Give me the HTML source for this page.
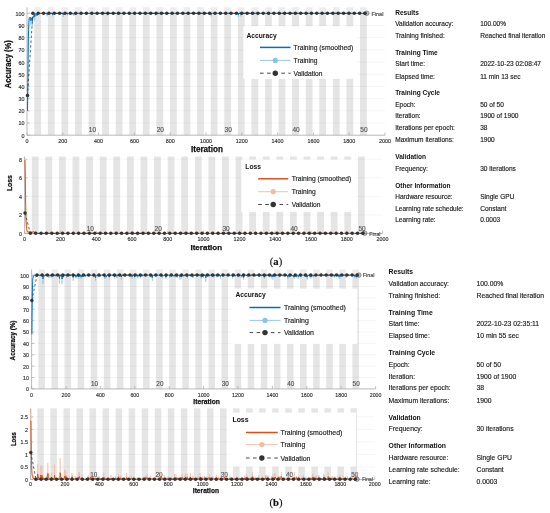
<!DOCTYPE html>
<html><head><meta charset="utf-8"><style>
html,body{margin:0;padding:0;background:#fff;}
svg{display:block;}
</style></head><body>
<svg width="550" height="513" viewBox="0 0 550 513" font-family='"Liberation Sans", Arial, Helvetica, sans-serif'>
<rect width="550" height="513" fill="#fff"/>
<rect x="34.29" y="7.3" width="6.79" height="5.7" fill="#EDEDED"/>
<rect x="34.29" y="13" width="6.79" height="122.2" fill="#E5E5E5"/>
<rect x="47.86" y="7.3" width="6.79" height="5.7" fill="#EDEDED"/>
<rect x="47.86" y="13" width="6.79" height="122.2" fill="#E5E5E5"/>
<rect x="61.43" y="7.3" width="6.79" height="5.7" fill="#EDEDED"/>
<rect x="61.43" y="13" width="6.79" height="122.2" fill="#E5E5E5"/>
<rect x="75" y="7.3" width="6.79" height="5.7" fill="#EDEDED"/>
<rect x="75" y="13" width="6.79" height="122.2" fill="#E5E5E5"/>
<rect x="88.57" y="7.3" width="6.79" height="5.7" fill="#EDEDED"/>
<rect x="88.57" y="13" width="6.79" height="122.2" fill="#E5E5E5"/>
<rect x="102.14" y="7.3" width="6.79" height="5.7" fill="#EDEDED"/>
<rect x="102.14" y="13" width="6.79" height="122.2" fill="#E5E5E5"/>
<rect x="115.71" y="7.3" width="6.79" height="5.7" fill="#EDEDED"/>
<rect x="115.71" y="13" width="6.79" height="122.2" fill="#E5E5E5"/>
<rect x="129.28" y="7.3" width="6.79" height="5.7" fill="#EDEDED"/>
<rect x="129.28" y="13" width="6.79" height="122.2" fill="#E5E5E5"/>
<rect x="142.86" y="7.3" width="6.79" height="5.7" fill="#EDEDED"/>
<rect x="142.86" y="13" width="6.79" height="122.2" fill="#E5E5E5"/>
<rect x="156.43" y="7.3" width="6.79" height="5.7" fill="#EDEDED"/>
<rect x="156.43" y="13" width="6.79" height="122.2" fill="#E5E5E5"/>
<rect x="170" y="7.3" width="6.79" height="5.7" fill="#EDEDED"/>
<rect x="170" y="13" width="6.79" height="122.2" fill="#E5E5E5"/>
<rect x="183.57" y="7.3" width="6.79" height="5.7" fill="#EDEDED"/>
<rect x="183.57" y="13" width="6.79" height="122.2" fill="#E5E5E5"/>
<rect x="197.14" y="7.3" width="6.79" height="5.7" fill="#EDEDED"/>
<rect x="197.14" y="13" width="6.79" height="122.2" fill="#E5E5E5"/>
<rect x="210.71" y="7.3" width="6.79" height="5.7" fill="#EDEDED"/>
<rect x="210.71" y="13" width="6.79" height="122.2" fill="#E5E5E5"/>
<rect x="224.28" y="7.3" width="6.79" height="5.7" fill="#EDEDED"/>
<rect x="224.28" y="13" width="6.79" height="122.2" fill="#E5E5E5"/>
<rect x="237.86" y="7.3" width="6.79" height="5.7" fill="#EDEDED"/>
<rect x="237.86" y="13" width="6.79" height="122.2" fill="#E5E5E5"/>
<rect x="251.43" y="7.3" width="6.79" height="5.7" fill="#EDEDED"/>
<rect x="251.43" y="13" width="6.79" height="122.2" fill="#E5E5E5"/>
<rect x="265" y="7.3" width="6.79" height="5.7" fill="#EDEDED"/>
<rect x="265" y="13" width="6.79" height="122.2" fill="#E5E5E5"/>
<rect x="278.57" y="7.3" width="6.79" height="5.7" fill="#EDEDED"/>
<rect x="278.57" y="13" width="6.79" height="122.2" fill="#E5E5E5"/>
<rect x="292.14" y="7.3" width="6.79" height="5.7" fill="#EDEDED"/>
<rect x="292.14" y="13" width="6.79" height="122.2" fill="#E5E5E5"/>
<rect x="305.71" y="7.3" width="6.79" height="5.7" fill="#EDEDED"/>
<rect x="305.71" y="13" width="6.79" height="122.2" fill="#E5E5E5"/>
<rect x="319.28" y="7.3" width="6.79" height="5.7" fill="#EDEDED"/>
<rect x="319.28" y="13" width="6.79" height="122.2" fill="#E5E5E5"/>
<rect x="332.85" y="7.3" width="6.79" height="5.7" fill="#EDEDED"/>
<rect x="332.85" y="13" width="6.79" height="122.2" fill="#E5E5E5"/>
<rect x="346.43" y="7.3" width="6.79" height="5.7" fill="#EDEDED"/>
<rect x="346.43" y="13" width="6.79" height="122.2" fill="#E5E5E5"/>
<rect x="360" y="7.3" width="6.79" height="5.7" fill="#EDEDED"/>
<rect x="360" y="13" width="6.79" height="122.2" fill="#E5E5E5"/>
<line x1="27" x2="385" y1="123.01" y2="123.01" stroke="#000" stroke-opacity="0.07" stroke-width="0.6"/>
<line x1="27" x2="385" y1="110.82" y2="110.82" stroke="#000" stroke-opacity="0.07" stroke-width="0.6"/>
<line x1="27" x2="385" y1="98.63" y2="98.63" stroke="#000" stroke-opacity="0.07" stroke-width="0.6"/>
<line x1="27" x2="385" y1="86.44" y2="86.44" stroke="#000" stroke-opacity="0.07" stroke-width="0.6"/>
<line x1="27" x2="385" y1="74.25" y2="74.25" stroke="#000" stroke-opacity="0.07" stroke-width="0.6"/>
<line x1="27" x2="385" y1="62.06" y2="62.06" stroke="#000" stroke-opacity="0.07" stroke-width="0.6"/>
<line x1="27" x2="385" y1="49.87" y2="49.87" stroke="#000" stroke-opacity="0.07" stroke-width="0.6"/>
<line x1="27" x2="385" y1="37.68" y2="37.68" stroke="#000" stroke-opacity="0.07" stroke-width="0.6"/>
<line x1="27" x2="385" y1="25.49" y2="25.49" stroke="#000" stroke-opacity="0.07" stroke-width="0.6"/>
<line x1="27" x2="385" y1="13.3" y2="13.3" stroke="#000" stroke-opacity="0.07" stroke-width="0.6"/>
<line x1="27" x2="27" y1="7.3" y2="135.2" stroke="#A8A8A8" stroke-width="0.8"/>
<line x1="27" x2="385" y1="135.2" y2="135.2" stroke="#A8A8A8" stroke-width="0.8"/>
<line x1="27" x2="27" y1="135.2" y2="132.4" stroke="#A8A8A8" stroke-width="0.7"/>
<text x="27" y="143.44" font-size="5.4" fill="#333333" text-anchor="middle" stroke="#333333" stroke-width="0.15">0</text>
<line x1="62.8" x2="62.8" y1="135.2" y2="132.4" stroke="#A8A8A8" stroke-width="0.7"/>
<text x="62.8" y="143.44" font-size="5.4" fill="#333333" text-anchor="middle" stroke="#333333" stroke-width="0.15">200</text>
<line x1="98.6" x2="98.6" y1="135.2" y2="132.4" stroke="#A8A8A8" stroke-width="0.7"/>
<text x="98.6" y="143.44" font-size="5.4" fill="#333333" text-anchor="middle" stroke="#333333" stroke-width="0.15">400</text>
<line x1="134.4" x2="134.4" y1="135.2" y2="132.4" stroke="#A8A8A8" stroke-width="0.7"/>
<text x="134.4" y="143.44" font-size="5.4" fill="#333333" text-anchor="middle" stroke="#333333" stroke-width="0.15">600</text>
<line x1="170.2" x2="170.2" y1="135.2" y2="132.4" stroke="#A8A8A8" stroke-width="0.7"/>
<text x="170.2" y="143.44" font-size="5.4" fill="#333333" text-anchor="middle" stroke="#333333" stroke-width="0.15">800</text>
<line x1="206" x2="206" y1="135.2" y2="132.4" stroke="#A8A8A8" stroke-width="0.7"/>
<text x="206" y="143.44" font-size="5.4" fill="#333333" text-anchor="middle" stroke="#333333" stroke-width="0.15">1000</text>
<line x1="241.8" x2="241.8" y1="135.2" y2="132.4" stroke="#A8A8A8" stroke-width="0.7"/>
<text x="241.8" y="143.44" font-size="5.4" fill="#333333" text-anchor="middle" stroke="#333333" stroke-width="0.15">1200</text>
<line x1="277.6" x2="277.6" y1="135.2" y2="132.4" stroke="#A8A8A8" stroke-width="0.7"/>
<text x="277.6" y="143.44" font-size="5.4" fill="#333333" text-anchor="middle" stroke="#333333" stroke-width="0.15">1400</text>
<line x1="313.4" x2="313.4" y1="135.2" y2="132.4" stroke="#A8A8A8" stroke-width="0.7"/>
<text x="313.4" y="143.44" font-size="5.4" fill="#333333" text-anchor="middle" stroke="#333333" stroke-width="0.15">1600</text>
<line x1="349.2" x2="349.2" y1="135.2" y2="132.4" stroke="#A8A8A8" stroke-width="0.7"/>
<text x="349.2" y="143.44" font-size="5.4" fill="#333333" text-anchor="middle" stroke="#333333" stroke-width="0.15">1800</text>
<line x1="385" x2="385" y1="135.2" y2="132.4" stroke="#A8A8A8" stroke-width="0.7"/>
<text x="385" y="143.44" font-size="5.4" fill="#333333" text-anchor="middle" stroke="#333333" stroke-width="0.15">2000</text>
<line x1="27" x2="29.8" y1="135.2" y2="135.2" stroke="#A8A8A8" stroke-width="0.7"/>
<text x="24.4" y="137.64" font-size="5.4" fill="#333333" text-anchor="end" stroke="#333333" stroke-width="0.15">0</text>
<line x1="27" x2="29.8" y1="123.01" y2="123.01" stroke="#A8A8A8" stroke-width="0.7"/>
<text x="24.4" y="125.45" font-size="5.4" fill="#333333" text-anchor="end" stroke="#333333" stroke-width="0.15">10</text>
<line x1="27" x2="29.8" y1="110.82" y2="110.82" stroke="#A8A8A8" stroke-width="0.7"/>
<text x="24.4" y="113.26" font-size="5.4" fill="#333333" text-anchor="end" stroke="#333333" stroke-width="0.15">20</text>
<line x1="27" x2="29.8" y1="98.63" y2="98.63" stroke="#A8A8A8" stroke-width="0.7"/>
<text x="24.4" y="101.07" font-size="5.4" fill="#333333" text-anchor="end" stroke="#333333" stroke-width="0.15">30</text>
<line x1="27" x2="29.8" y1="86.44" y2="86.44" stroke="#A8A8A8" stroke-width="0.7"/>
<text x="24.4" y="88.88" font-size="5.4" fill="#333333" text-anchor="end" stroke="#333333" stroke-width="0.15">40</text>
<line x1="27" x2="29.8" y1="74.25" y2="74.25" stroke="#A8A8A8" stroke-width="0.7"/>
<text x="24.4" y="76.69" font-size="5.4" fill="#333333" text-anchor="end" stroke="#333333" stroke-width="0.15">50</text>
<line x1="27" x2="29.8" y1="62.06" y2="62.06" stroke="#A8A8A8" stroke-width="0.7"/>
<text x="24.4" y="64.5" font-size="5.4" fill="#333333" text-anchor="end" stroke="#333333" stroke-width="0.15">60</text>
<line x1="27" x2="29.8" y1="49.87" y2="49.87" stroke="#A8A8A8" stroke-width="0.7"/>
<text x="24.4" y="52.31" font-size="5.4" fill="#333333" text-anchor="end" stroke="#333333" stroke-width="0.15">70</text>
<line x1="27" x2="29.8" y1="37.68" y2="37.68" stroke="#A8A8A8" stroke-width="0.7"/>
<text x="24.4" y="40.12" font-size="5.4" fill="#333333" text-anchor="end" stroke="#333333" stroke-width="0.15">80</text>
<line x1="27" x2="29.8" y1="25.49" y2="25.49" stroke="#A8A8A8" stroke-width="0.7"/>
<text x="24.4" y="27.93" font-size="5.4" fill="#333333" text-anchor="end" stroke="#333333" stroke-width="0.15">90</text>
<line x1="27" x2="29.8" y1="13.3" y2="13.3" stroke="#A8A8A8" stroke-width="0.7"/>
<text x="24.4" y="15.74" font-size="5.4" fill="#333333" text-anchor="end" stroke="#333333" stroke-width="0.15">100</text>
<text x="92.46" y="131.64" font-size="6.5" fill="#555" text-anchor="middle" stroke="#555" stroke-width="0.15">10</text>
<text x="160.32" y="131.64" font-size="6.5" fill="#555" text-anchor="middle" stroke="#555" stroke-width="0.15">20</text>
<text x="228.18" y="131.64" font-size="6.5" fill="#555" text-anchor="middle" stroke="#555" stroke-width="0.15">30</text>
<text x="296.03" y="131.64" font-size="6.5" fill="#555" text-anchor="middle" stroke="#555" stroke-width="0.15">40</text>
<text x="363.89" y="131.64" font-size="6.5" fill="#555" text-anchor="middle" stroke="#555" stroke-width="0.15">50</text>
<polyline points="27.5,110.82 27.68,84 27.86,55.96 28.04,37.68 28.21,26.71 28.39,21.83 28.57,19.39 28.75,17.57 28.93,17.34 29.11,17.23 29.29,16.95 29.46,17.34 29.64,16.99 29.82,18.73 30,17.88 30.18,16.95 30.36,17.52 30.54,17.03 30.71,18.56 30.89,25.18 31.07,18.3 31.25,17.72 31.43,17.67 31.61,18.76 31.79,18.36 31.96,18.24 32.14,17 32.32,25.83 32.5,18.47 32.68,17.23 32.86,18.01 33.04,16.94 33.21,17.05 33.39,16.71 33.57,15.16 33.75,15.48 33.93,15.27 34.11,13.3 34.29,13.3 34.46,15.03 34.64,20.61 34.82,14.21 35,13.75 35.18,15.31 35.36,13.3 35.54,13.71 35.71,13.3 35.89,13.3 36.07,15 36.25,14.79 36.43,15.44 36.61,15.5 36.79,15.77 36.96,14.99 37.14,14 37.32,15.97 37.5,13.3 46.96,13.3 47.14,16.35 47.32,13.3 52.32,13.3 52.5,16.35 52.68,13.3 63.04,13.3 63.21,16.96 63.39,13.3 67.5,13.3 67.68,15.51 67.86,13.3 72.14,13.3 72.32,14.78 72.5,13.3 73.75,13.3 73.93,15.74 74.11,13.3 107.32,13.3 107.5,15.67 107.68,13.3 155.36,13.3 155.53,15.47 155.71,13.3 210.89,13.3 211.07,16.37 211.25,13.3 238.21,13.3 238.39,16.82 238.57,13.3 240.89,13.3 241.07,16.45 241.25,13.3 326.96,13.3 327.14,14.81 327.32,13.3 366.78,13.3" fill="none" stroke="#8DC1E6" stroke-width="0.6" stroke-opacity="1.0" stroke-linejoin="round"/>
<polyline points="27.5,110.82 27.68,100.09 27.86,82.44 28.04,64.54 28.21,49.41 28.39,38.38 28.57,30.78 28.75,25.5 28.93,22.23 29.11,20.23 29.29,18.92 29.46,18.29 29.64,17.77 29.82,18.15 30,18.04 30.18,17.6 30.36,17.57 30.54,17.35 30.71,17.84 30.89,20.78 31.07,19.79 31.25,18.96 31.43,18.44 31.61,18.57 31.79,18.49 31.96,18.39 32.14,17.83 32.32,21.03 32.5,20.01 32.68,18.9 32.86,18.54 33.04,17.9 33.21,17.56 33.39,17.22 33.57,16.4 33.75,16.03 33.93,15.73 34.11,14.76 34.29,14.17 34.46,14.52 34.64,16.96 34.82,15.86 35,15.01 35.18,15.13 35.36,14.4 35.54,14.12 35.71,13.79 35.89,13.6 36.07,14.16 36.25,14.41 36.43,14.82 36.61,15.09 36.79,15.36 36.96,15.21 37.14,14.73 37.32,15.22 37.5,14.45 37.68,13.99 37.86,13.72 38.04,13.55 38.21,13.45 38.39,13.39 38.57,13.35 38.75,13.33 38.93,13.32 39.11,13.31 39.29,13.31 39.46,13.3 39.64,13.3 46.96,13.3 47.14,14.52 47.32,14.03 47.5,13.74 47.68,13.56 47.86,13.46 48.04,13.39 48.21,13.36 48.39,13.33 48.57,13.32 48.75,13.31 48.93,13.31 49.11,13.3 49.29,13.3 52.32,13.3 52.5,14.52 52.68,14.03 52.86,13.74 53.04,13.56 53.21,13.46 53.39,13.39 53.57,13.36 53.75,13.33 53.93,13.32 54.11,13.31 54.29,13.31 54.46,13.3 54.64,13.3 63.04,13.3 63.21,14.76 63.39,14.18 63.57,13.83 63.75,13.62 63.93,13.49 64.11,13.41 64.29,13.37 64.46,13.34 64.64,13.32 64.82,13.31 65,13.31 65.18,13.31 65.36,13.3 65.54,13.3 67.5,13.3 67.68,14.18 67.86,13.83 68.04,13.62 68.21,13.49 68.39,13.41 68.57,13.37 68.75,13.34 68.93,13.32 69.11,13.31 69.29,13.31 69.46,13.31 69.64,13.3 69.82,13.3 72.14,13.3 72.32,13.89 72.5,13.66 72.68,13.51 72.86,13.43 73.04,13.38 73.21,13.35 73.39,13.33 73.57,13.32 73.75,13.31 73.93,14.28 74.11,13.89 74.29,13.65 74.46,13.51 74.64,13.43 74.82,13.38 75,13.35 75.18,13.33 75.36,13.32 75.54,13.31 75.71,13.31 75.89,13.3 76.07,13.3 107.32,13.3 107.5,14.25 107.68,13.87 107.86,13.64 108.04,13.5 108.21,13.42 108.39,13.37 108.57,13.34 108.75,13.33 108.93,13.32 109.11,13.31 109.29,13.31 109.46,13.3 109.64,13.3 155.36,13.3 155.53,14.17 155.71,13.82 155.89,13.61 156.07,13.49 156.25,13.41 156.43,13.37 156.61,13.34 156.78,13.32 156.96,13.31 157.14,13.31 157.32,13.31 157.5,13.3 157.68,13.3 210.89,13.3 211.07,14.53 211.25,14.04 211.43,13.74 211.61,13.57 211.78,13.46 211.96,13.4 212.14,13.36 212.32,13.33 212.5,13.32 212.68,13.31 212.86,13.31 213.03,13.3 213.21,13.3 238.21,13.3 238.39,14.71 238.57,14.14 238.75,13.81 238.93,13.6 239.11,13.48 239.28,13.41 239.46,13.37 239.64,13.34 239.82,13.32 240,13.31 240.18,13.31 240.36,13.31 240.53,13.3 240.71,13.3 240.89,13.3 241.07,14.56 241.25,14.06 241.43,13.75 241.61,13.57 241.78,13.46 241.96,13.4 242.14,13.36 242.32,13.34 242.5,13.32 242.68,13.31 242.86,13.31 243.03,13.3 243.21,13.3 326.96,13.3 327.14,13.9 327.32,13.66 327.5,13.52 327.68,13.43 327.85,13.38 328.03,13.35 328.21,13.33 328.39,13.32 328.57,13.31 328.75,13.31 328.93,13.3 329.1,13.3 366.78,13.3" fill="none" stroke="#0072BD" stroke-width="1.0" stroke-opacity="1.0" stroke-linejoin="round"/>
<polyline points="27.5,95.58 32.86,13.3 366.78,13.3" fill="none" stroke="#333333" stroke-width="0.8" stroke-opacity="1.0" stroke-linejoin="round" stroke-dasharray="2.4 2.4"/>
<circle cx="27.5" cy="95.58" r="1.75" fill="#333333"/>
<circle cx="32.86" cy="13.3" r="1.75" fill="#333333"/>
<circle cx="38.21" cy="13.3" r="1.75" fill="#333333"/>
<circle cx="43.57" cy="13.3" r="1.75" fill="#333333"/>
<circle cx="48.93" cy="13.3" r="1.75" fill="#333333"/>
<circle cx="54.29" cy="13.3" r="1.75" fill="#333333"/>
<circle cx="59.64" cy="13.3" r="1.75" fill="#333333"/>
<circle cx="65" cy="13.3" r="1.75" fill="#333333"/>
<circle cx="70.36" cy="13.3" r="1.75" fill="#333333"/>
<circle cx="75.71" cy="13.3" r="1.75" fill="#333333"/>
<circle cx="81.07" cy="13.3" r="1.75" fill="#333333"/>
<circle cx="86.43" cy="13.3" r="1.75" fill="#333333"/>
<circle cx="91.79" cy="13.3" r="1.75" fill="#333333"/>
<circle cx="97.14" cy="13.3" r="1.75" fill="#333333"/>
<circle cx="102.5" cy="13.3" r="1.75" fill="#333333"/>
<circle cx="107.86" cy="13.3" r="1.75" fill="#333333"/>
<circle cx="113.21" cy="13.3" r="1.75" fill="#333333"/>
<circle cx="118.57" cy="13.3" r="1.75" fill="#333333"/>
<circle cx="123.93" cy="13.3" r="1.75" fill="#333333"/>
<circle cx="129.28" cy="13.3" r="1.75" fill="#333333"/>
<circle cx="134.64" cy="13.3" r="1.75" fill="#333333"/>
<circle cx="140" cy="13.3" r="1.75" fill="#333333"/>
<circle cx="145.36" cy="13.3" r="1.75" fill="#333333"/>
<circle cx="150.71" cy="13.3" r="1.75" fill="#333333"/>
<circle cx="156.07" cy="13.3" r="1.75" fill="#333333"/>
<circle cx="161.43" cy="13.3" r="1.75" fill="#333333"/>
<circle cx="166.78" cy="13.3" r="1.75" fill="#333333"/>
<circle cx="172.14" cy="13.3" r="1.75" fill="#333333"/>
<circle cx="177.5" cy="13.3" r="1.75" fill="#333333"/>
<circle cx="182.86" cy="13.3" r="1.75" fill="#333333"/>
<circle cx="188.21" cy="13.3" r="1.75" fill="#333333"/>
<circle cx="193.57" cy="13.3" r="1.75" fill="#333333"/>
<circle cx="198.93" cy="13.3" r="1.75" fill="#333333"/>
<circle cx="204.28" cy="13.3" r="1.75" fill="#333333"/>
<circle cx="209.64" cy="13.3" r="1.75" fill="#333333"/>
<circle cx="215" cy="13.3" r="1.75" fill="#333333"/>
<circle cx="220.36" cy="13.3" r="1.75" fill="#333333"/>
<circle cx="225.71" cy="13.3" r="1.75" fill="#333333"/>
<circle cx="231.07" cy="13.3" r="1.75" fill="#333333"/>
<circle cx="236.43" cy="13.3" r="1.75" fill="#333333"/>
<circle cx="241.78" cy="13.3" r="1.75" fill="#333333"/>
<circle cx="247.14" cy="13.3" r="1.75" fill="#333333"/>
<circle cx="252.5" cy="13.3" r="1.75" fill="#333333"/>
<circle cx="257.86" cy="13.3" r="1.75" fill="#333333"/>
<circle cx="263.21" cy="13.3" r="1.75" fill="#333333"/>
<circle cx="268.57" cy="13.3" r="1.75" fill="#333333"/>
<circle cx="273.93" cy="13.3" r="1.75" fill="#333333"/>
<circle cx="279.28" cy="13.3" r="1.75" fill="#333333"/>
<circle cx="284.64" cy="13.3" r="1.75" fill="#333333"/>
<circle cx="290" cy="13.3" r="1.75" fill="#333333"/>
<circle cx="295.36" cy="13.3" r="1.75" fill="#333333"/>
<circle cx="300.71" cy="13.3" r="1.75" fill="#333333"/>
<circle cx="306.07" cy="13.3" r="1.75" fill="#333333"/>
<circle cx="311.43" cy="13.3" r="1.75" fill="#333333"/>
<circle cx="316.78" cy="13.3" r="1.75" fill="#333333"/>
<circle cx="322.14" cy="13.3" r="1.75" fill="#333333"/>
<circle cx="327.5" cy="13.3" r="1.75" fill="#333333"/>
<circle cx="332.85" cy="13.3" r="1.75" fill="#333333"/>
<circle cx="338.21" cy="13.3" r="1.75" fill="#333333"/>
<circle cx="343.57" cy="13.3" r="1.75" fill="#333333"/>
<circle cx="348.93" cy="13.3" r="1.75" fill="#333333"/>
<circle cx="354.28" cy="13.3" r="1.75" fill="#333333"/>
<circle cx="359.64" cy="13.3" r="1.75" fill="#333333"/>
<circle cx="365" cy="13.3" r="1.75" fill="#333333"/>
<circle cx="366.78" cy="13.3" r="2.3" fill="#8a8a8a" fill-opacity="0.55" stroke="#555" stroke-width="0.5"/>
<circle cx="365" cy="13.3" r="1.6" fill="#333333"/>
<text x="371.38" y="15.62" font-size="5.6" fill="#444" textLength="12" lengthAdjust="spacingAndGlyphs" stroke="#444" stroke-width="0.15">Final</text>
<rect x="243.4" y="26.2" width="113.9" height="52.6" fill="#fff"/>
<text x="246.5" y="37.71" font-size="6.7" fill="#111" font-weight="bold">Accuracy</text>
<line x1="260" x2="290.6" y1="47.4" y2="47.4" stroke="#0072BD" stroke-width="1.5"/>
<text x="293.6" y="49.81" font-size="6.7" fill="#222" stroke="#222" stroke-width="0.15">Training (smoothed)</text>
<line x1="260" x2="290.6" y1="60.4" y2="60.4" stroke="#8DC1E6" stroke-width="0.9"/>
<circle cx="275.3" cy="60.4" r="2.6" fill="#8DC1E6"/>
<text x="293.6" y="62.81" font-size="6.7" fill="#222" stroke="#222" stroke-width="0.15">Training</text>
<line x1="260" x2="290.6" y1="73.2" y2="73.2" stroke="#333333" stroke-width="0.9" stroke-dasharray="3.6 3.5"/>
<circle cx="275.3" cy="73.2" r="2.7" fill="#333333"/>
<text x="293.6" y="75.61" font-size="6.7" fill="#222" stroke="#222" stroke-width="0.15">Validation</text>
<text transform="translate(11.25,64.2) rotate(-90)" font-size="8.2" font-weight="bold" text-anchor="middle" fill="#111" stroke="#111" stroke-width="0.25" textLength="47.9" lengthAdjust="spacingAndGlyphs">Accuracy (%)</text>
<text x="207" y="152.15" font-size="8.2" fill="#111" text-anchor="middle" font-weight="bold" textLength="32.1" lengthAdjust="spacingAndGlyphs" stroke="#111" stroke-width="0.25">Iteration</text>
<rect x="31.79" y="156.5" width="6.79" height="77" fill="#E5E5E5"/>
<rect x="45.38" y="156.5" width="6.79" height="77" fill="#E5E5E5"/>
<rect x="58.97" y="156.5" width="6.79" height="77" fill="#E5E5E5"/>
<rect x="72.56" y="156.5" width="6.79" height="77" fill="#E5E5E5"/>
<rect x="86.15" y="156.5" width="6.79" height="77" fill="#E5E5E5"/>
<rect x="99.74" y="156.5" width="6.79" height="77" fill="#E5E5E5"/>
<rect x="113.33" y="156.5" width="6.79" height="77" fill="#E5E5E5"/>
<rect x="126.92" y="156.5" width="6.79" height="77" fill="#E5E5E5"/>
<rect x="140.5" y="156.5" width="6.79" height="77" fill="#E5E5E5"/>
<rect x="154.09" y="156.5" width="6.79" height="77" fill="#E5E5E5"/>
<rect x="167.68" y="156.5" width="6.79" height="77" fill="#E5E5E5"/>
<rect x="181.27" y="156.5" width="6.79" height="77" fill="#E5E5E5"/>
<rect x="194.86" y="156.5" width="6.79" height="77" fill="#E5E5E5"/>
<rect x="208.45" y="156.5" width="6.79" height="77" fill="#E5E5E5"/>
<rect x="222.04" y="156.5" width="6.79" height="77" fill="#E5E5E5"/>
<rect x="235.63" y="156.5" width="6.79" height="77" fill="#E5E5E5"/>
<rect x="249.22" y="156.5" width="6.79" height="77" fill="#E5E5E5"/>
<rect x="262.8" y="156.5" width="6.79" height="77" fill="#E5E5E5"/>
<rect x="276.39" y="156.5" width="6.79" height="77" fill="#E5E5E5"/>
<rect x="289.98" y="156.5" width="6.79" height="77" fill="#E5E5E5"/>
<rect x="303.57" y="156.5" width="6.79" height="77" fill="#E5E5E5"/>
<rect x="317.16" y="156.5" width="6.79" height="77" fill="#E5E5E5"/>
<rect x="330.75" y="156.5" width="6.79" height="77" fill="#E5E5E5"/>
<rect x="344.34" y="156.5" width="6.79" height="77" fill="#E5E5E5"/>
<rect x="357.93" y="156.5" width="6.79" height="77" fill="#E5E5E5"/>
<line x1="24.6" x2="382.6" y1="214.92" y2="214.92" stroke="#000" stroke-opacity="0.07" stroke-width="0.6"/>
<line x1="24.6" x2="382.6" y1="196.34" y2="196.34" stroke="#000" stroke-opacity="0.07" stroke-width="0.6"/>
<line x1="24.6" x2="382.6" y1="177.76" y2="177.76" stroke="#000" stroke-opacity="0.07" stroke-width="0.6"/>
<line x1="24.6" x2="382.6" y1="159.18" y2="159.18" stroke="#000" stroke-opacity="0.07" stroke-width="0.6"/>
<line x1="24.6" x2="24.6" y1="156.5" y2="233.5" stroke="#A8A8A8" stroke-width="0.8"/>
<line x1="24.6" x2="382.6" y1="233.5" y2="233.5" stroke="#A8A8A8" stroke-width="0.8"/>
<line x1="24.6" x2="24.6" y1="233.5" y2="230.7" stroke="#A8A8A8" stroke-width="0.7"/>
<text x="24.6" y="241.04" font-size="5.4" fill="#333333" text-anchor="middle" stroke="#333333" stroke-width="0.15">0</text>
<line x1="60.4" x2="60.4" y1="233.5" y2="230.7" stroke="#A8A8A8" stroke-width="0.7"/>
<text x="60.4" y="241.04" font-size="5.4" fill="#333333" text-anchor="middle" stroke="#333333" stroke-width="0.15">200</text>
<line x1="96.2" x2="96.2" y1="233.5" y2="230.7" stroke="#A8A8A8" stroke-width="0.7"/>
<text x="96.2" y="241.04" font-size="5.4" fill="#333333" text-anchor="middle" stroke="#333333" stroke-width="0.15">400</text>
<line x1="132" x2="132" y1="233.5" y2="230.7" stroke="#A8A8A8" stroke-width="0.7"/>
<text x="132" y="241.04" font-size="5.4" fill="#333333" text-anchor="middle" stroke="#333333" stroke-width="0.15">600</text>
<line x1="167.8" x2="167.8" y1="233.5" y2="230.7" stroke="#A8A8A8" stroke-width="0.7"/>
<text x="167.8" y="241.04" font-size="5.4" fill="#333333" text-anchor="middle" stroke="#333333" stroke-width="0.15">800</text>
<line x1="203.6" x2="203.6" y1="233.5" y2="230.7" stroke="#A8A8A8" stroke-width="0.7"/>
<text x="203.6" y="241.04" font-size="5.4" fill="#333333" text-anchor="middle" stroke="#333333" stroke-width="0.15">1000</text>
<line x1="239.4" x2="239.4" y1="233.5" y2="230.7" stroke="#A8A8A8" stroke-width="0.7"/>
<text x="239.4" y="241.04" font-size="5.4" fill="#333333" text-anchor="middle" stroke="#333333" stroke-width="0.15">1200</text>
<line x1="275.2" x2="275.2" y1="233.5" y2="230.7" stroke="#A8A8A8" stroke-width="0.7"/>
<text x="275.2" y="241.04" font-size="5.4" fill="#333333" text-anchor="middle" stroke="#333333" stroke-width="0.15">1400</text>
<line x1="311" x2="311" y1="233.5" y2="230.7" stroke="#A8A8A8" stroke-width="0.7"/>
<text x="311" y="241.04" font-size="5.4" fill="#333333" text-anchor="middle" stroke="#333333" stroke-width="0.15">1600</text>
<line x1="346.8" x2="346.8" y1="233.5" y2="230.7" stroke="#A8A8A8" stroke-width="0.7"/>
<text x="346.8" y="241.04" font-size="5.4" fill="#333333" text-anchor="middle" stroke="#333333" stroke-width="0.15">1800</text>
<line x1="382.6" x2="382.6" y1="233.5" y2="230.7" stroke="#A8A8A8" stroke-width="0.7"/>
<text x="382.6" y="241.04" font-size="5.4" fill="#333333" text-anchor="middle" stroke="#333333" stroke-width="0.15">2000</text>
<line x1="24.6" x2="27.4" y1="233.5" y2="233.5" stroke="#A8A8A8" stroke-width="0.7"/>
<text x="22" y="235.94" font-size="5.4" fill="#333333" text-anchor="end" stroke="#333333" stroke-width="0.15">0</text>
<line x1="24.6" x2="27.4" y1="214.92" y2="214.92" stroke="#A8A8A8" stroke-width="0.7"/>
<text x="22" y="217.36" font-size="5.4" fill="#333333" text-anchor="end" stroke="#333333" stroke-width="0.15">2</text>
<line x1="24.6" x2="27.4" y1="196.34" y2="196.34" stroke="#A8A8A8" stroke-width="0.7"/>
<text x="22" y="198.78" font-size="5.4" fill="#333333" text-anchor="end" stroke="#333333" stroke-width="0.15">4</text>
<line x1="24.6" x2="27.4" y1="177.76" y2="177.76" stroke="#A8A8A8" stroke-width="0.7"/>
<text x="22" y="180.2" font-size="5.4" fill="#333333" text-anchor="end" stroke="#333333" stroke-width="0.15">6</text>
<line x1="24.6" x2="27.4" y1="159.18" y2="159.18" stroke="#A8A8A8" stroke-width="0.7"/>
<text x="22" y="161.62" font-size="5.4" fill="#333333" text-anchor="end" stroke="#333333" stroke-width="0.15">8</text>
<text x="90.25" y="230.64" font-size="6.5" fill="#555" text-anchor="middle" stroke="#555" stroke-width="0.15">10</text>
<text x="158.19" y="230.64" font-size="6.5" fill="#555" text-anchor="middle" stroke="#555" stroke-width="0.15">20</text>
<text x="226.13" y="230.64" font-size="6.5" fill="#555" text-anchor="middle" stroke="#555" stroke-width="0.15">30</text>
<text x="294.08" y="230.64" font-size="6.5" fill="#555" text-anchor="middle" stroke="#555" stroke-width="0.15">40</text>
<text x="362.02" y="230.64" font-size="6.5" fill="#555" text-anchor="middle" stroke="#555" stroke-width="0.15">50</text>
<polyline points="25,160.02 25.18,186.82 25.36,203.84 25.54,214.64 25.72,221.49 25.89,225.85 26.07,226.76 26.25,228.45 26.43,230.35 26.61,231.57 26.79,232.63 26.97,231.37 27.15,232 27.32,231.44 27.5,232.41 27.68,231.54 27.86,232.72 28.04,231.51 28.22,231.69 28.4,232.43 28.58,232.15 28.75,231.82 28.93,232.96 29.11,232.12 29.29,231.54 29.47,232.79 29.65,231.54 29.83,231.81 30.01,231.45 30.19,232.63 30.36,233.19 30.54,231.55 30.72,231.54 30.9,232.37 31.08,233.19 31.26,232.95 31.44,231.93 31.62,232.73 31.79,231.2 31.97,232.04 32.15,232.94 32.33,231.88 32.51,232.57 32.69,231.24 32.87,231.29 33.05,232.21 33.22,231.91 33.4,231.79 33.58,231.54 33.76,231.14 33.94,233.34 34.12,232.57 34.3,232.01 34.48,232.7 34.66,232.04 34.83,233.2 35.01,231.36 35.19,232.19 35.37,233.14 35.55,231.87 35.73,233.41 48.24,233.41 48.42,232.91 48.6,233.41 79.53,233.41 79.71,233.33 79.89,232.48 80.07,233.41 87.4,233.41 87.58,233.07 87.76,233.41 97.41,233.41 97.59,232.42 97.77,233.41 105.64,233.41 105.82,232.43 106,233.41 116.19,233.41 116.37,233.11 116.55,233.41 137.47,233.41 137.64,233.36 137.82,233.41 145.87,233.41 146.05,233.04 146.23,233.41 153.91,233.41 154.09,233.33 154.27,233.41 169.29,233.41 169.47,232.7 169.65,233.41 169.83,233.41 170.01,232.42 170.19,233.41 185.92,233.41 186.1,232.33 186.28,233.41 186.46,233.08 186.64,233.41 186.81,232.51 186.99,233.41 199.51,233.41 199.69,233.06 199.87,233.41 238.13,233.41 238.31,232.85 238.49,233.41 253.33,233.41 253.51,232.99 253.69,233.41 270.13,233.41 270.31,232.68 270.49,233.41 272.46,233.41 272.64,232.96 272.82,233.41 286.41,233.41 286.58,232.82 286.76,233.41 299.99,233.41 300.17,232.44 300.35,233.41 341.12,233.41 341.3,233.05 341.48,233.41 351.49,233.41 351.67,233.29 351.85,233.41 364.72,233.41" fill="none" stroke="#F2BBA3" stroke-width="0.6" stroke-opacity="1.0" stroke-linejoin="round"/>
<polyline points="25,160.02 25.18,170.74 25.36,183.98 25.54,196.24 25.72,206.34 25.89,214.14 26.07,219.19 26.25,222.9 26.43,225.88 26.61,228.15 26.79,229.94 26.97,230.52 27.15,231.11 27.32,231.24 27.5,231.71 27.68,231.64 27.86,232.07 28.04,231.85 28.22,231.79 28.4,232.04 28.58,232.09 28.75,231.98 28.93,232.37 29.11,232.27 29.29,231.98 29.47,232.3 29.65,232 29.83,231.92 30.01,231.73 30.19,232.09 30.36,232.53 30.54,232.14 30.72,231.9 30.9,232.09 31.08,232.53 31.26,232.7 31.44,232.39 31.62,232.53 31.79,232 31.97,232.01 32.15,232.38 32.33,232.18 32.51,232.34 32.69,231.9 32.87,231.66 33.05,231.88 33.22,231.89 33.4,231.85 33.58,231.72 33.76,231.49 33.94,232.23 34.12,232.37 34.3,232.22 34.48,232.41 34.66,232.26 34.83,232.64 35.01,232.13 35.19,232.15 35.37,232.55 35.55,232.27 35.73,232.73 35.91,233 36.09,233.16 36.26,233.26 36.44,233.32 36.62,233.35 36.8,233.38 36.98,233.39 48.24,233.41 48.42,233.21 48.6,233.29 48.78,233.33 48.96,233.36 49.14,233.38 49.32,233.39 79.53,233.41 79.71,233.38 79.89,233.02 80.07,233.17 80.25,233.27 80.43,233.32 80.61,233.36 80.79,233.38 80.96,233.39 87.4,233.41 87.58,233.27 87.76,233.33 87.94,233.36 88.12,233.38 88.3,233.39 97.41,233.41 97.59,233.01 97.77,233.17 97.95,233.27 98.13,233.32 98.31,233.36 98.49,233.38 98.67,233.39 105.64,233.41 105.82,233.02 106,233.17 106.18,233.27 106.35,233.32 106.53,233.36 106.71,233.38 106.89,233.39 116.19,233.41 116.37,233.29 116.55,233.34 116.72,233.36 116.9,233.38 117.08,233.39 137.47,233.41 137.64,233.39 145.87,233.41 146.05,233.26 146.23,233.32 146.41,233.35 146.58,233.38 146.76,233.39 153.91,233.41 154.09,233.38 154.27,233.39 169.29,233.41 169.47,233.12 169.65,233.24 169.83,233.3 170.01,232.95 170.19,233.13 170.36,233.24 170.54,233.31 170.72,233.35 170.9,233.37 171.08,233.39 185.92,233.41 186.1,232.98 186.28,233.15 186.46,233.12 186.64,233.23 186.81,232.95 186.99,233.13 187.17,233.24 187.35,233.31 187.53,233.35 187.71,233.37 187.89,233.39 199.51,233.41 199.69,233.27 199.87,233.32 200.05,233.36 200.22,233.38 200.4,233.39 238.13,233.41 238.31,233.18 238.49,233.27 238.67,233.33 238.84,233.36 239.02,233.38 239.2,233.39 253.33,233.41 253.51,233.24 253.69,233.31 253.86,233.35 254.04,233.37 254.22,233.39 270.13,233.41 270.31,233.12 270.49,233.23 270.67,233.3 270.85,233.34 271.03,233.37 271.21,233.38 272.46,233.41 272.64,233.23 272.82,233.3 273,233.34 273.17,233.37 273.35,233.38 273.53,233.39 286.41,233.41 286.58,233.17 286.76,233.27 286.94,233.32 287.12,233.36 287.3,233.38 287.48,233.39 299.99,233.41 300.17,233.02 300.35,233.18 300.53,233.27 300.71,233.32 300.89,233.36 301.07,233.38 301.25,233.39 341.12,233.41 341.3,233.26 341.48,233.32 341.65,233.36 341.83,233.38 342.01,233.39 351.49,233.41 351.67,233.36 351.85,233.38 352.03,233.39 364.72,233.41" fill="none" stroke="#D95319" stroke-width="1.0" stroke-opacity="1.0" stroke-linejoin="round"/>
<polyline points="25,213.06 30.36,233.31 364.72,233.31" fill="none" stroke="#333333" stroke-width="0.8" stroke-opacity="1.0" stroke-linejoin="round" stroke-dasharray="2.4 2.4"/>
<circle cx="25" cy="213.06" r="1.75" fill="#333333"/>
<circle cx="30.36" cy="233.31" r="1.75" fill="#333333"/>
<circle cx="35.73" cy="233.31" r="1.75" fill="#333333"/>
<circle cx="41.09" cy="233.31" r="1.75" fill="#333333"/>
<circle cx="46.46" cy="233.31" r="1.75" fill="#333333"/>
<circle cx="51.82" cy="233.31" r="1.75" fill="#333333"/>
<circle cx="57.18" cy="233.31" r="1.75" fill="#333333"/>
<circle cx="62.55" cy="233.31" r="1.75" fill="#333333"/>
<circle cx="67.91" cy="233.31" r="1.75" fill="#333333"/>
<circle cx="73.28" cy="233.31" r="1.75" fill="#333333"/>
<circle cx="78.64" cy="233.31" r="1.75" fill="#333333"/>
<circle cx="84" cy="233.31" r="1.75" fill="#333333"/>
<circle cx="89.37" cy="233.31" r="1.75" fill="#333333"/>
<circle cx="94.73" cy="233.31" r="1.75" fill="#333333"/>
<circle cx="100.1" cy="233.31" r="1.75" fill="#333333"/>
<circle cx="105.46" cy="233.31" r="1.75" fill="#333333"/>
<circle cx="110.82" cy="233.31" r="1.75" fill="#333333"/>
<circle cx="116.19" cy="233.31" r="1.75" fill="#333333"/>
<circle cx="121.55" cy="233.31" r="1.75" fill="#333333"/>
<circle cx="126.92" cy="233.31" r="1.75" fill="#333333"/>
<circle cx="132.28" cy="233.31" r="1.75" fill="#333333"/>
<circle cx="137.64" cy="233.31" r="1.75" fill="#333333"/>
<circle cx="143.01" cy="233.31" r="1.75" fill="#333333"/>
<circle cx="148.37" cy="233.31" r="1.75" fill="#333333"/>
<circle cx="153.74" cy="233.31" r="1.75" fill="#333333"/>
<circle cx="159.1" cy="233.31" r="1.75" fill="#333333"/>
<circle cx="164.46" cy="233.31" r="1.75" fill="#333333"/>
<circle cx="169.83" cy="233.31" r="1.75" fill="#333333"/>
<circle cx="175.19" cy="233.31" r="1.75" fill="#333333"/>
<circle cx="180.56" cy="233.31" r="1.75" fill="#333333"/>
<circle cx="185.92" cy="233.31" r="1.75" fill="#333333"/>
<circle cx="191.28" cy="233.31" r="1.75" fill="#333333"/>
<circle cx="196.65" cy="233.31" r="1.75" fill="#333333"/>
<circle cx="202.01" cy="233.31" r="1.75" fill="#333333"/>
<circle cx="207.38" cy="233.31" r="1.75" fill="#333333"/>
<circle cx="212.74" cy="233.31" r="1.75" fill="#333333"/>
<circle cx="218.1" cy="233.31" r="1.75" fill="#333333"/>
<circle cx="223.47" cy="233.31" r="1.75" fill="#333333"/>
<circle cx="228.83" cy="233.31" r="1.75" fill="#333333"/>
<circle cx="234.2" cy="233.31" r="1.75" fill="#333333"/>
<circle cx="239.56" cy="233.31" r="1.75" fill="#333333"/>
<circle cx="244.92" cy="233.31" r="1.75" fill="#333333"/>
<circle cx="250.29" cy="233.31" r="1.75" fill="#333333"/>
<circle cx="255.65" cy="233.31" r="1.75" fill="#333333"/>
<circle cx="261.02" cy="233.31" r="1.75" fill="#333333"/>
<circle cx="266.38" cy="233.31" r="1.75" fill="#333333"/>
<circle cx="271.74" cy="233.31" r="1.75" fill="#333333"/>
<circle cx="277.11" cy="233.31" r="1.75" fill="#333333"/>
<circle cx="282.47" cy="233.31" r="1.75" fill="#333333"/>
<circle cx="287.84" cy="233.31" r="1.75" fill="#333333"/>
<circle cx="293.2" cy="233.31" r="1.75" fill="#333333"/>
<circle cx="298.56" cy="233.31" r="1.75" fill="#333333"/>
<circle cx="303.93" cy="233.31" r="1.75" fill="#333333"/>
<circle cx="309.29" cy="233.31" r="1.75" fill="#333333"/>
<circle cx="314.66" cy="233.31" r="1.75" fill="#333333"/>
<circle cx="320.02" cy="233.31" r="1.75" fill="#333333"/>
<circle cx="325.38" cy="233.31" r="1.75" fill="#333333"/>
<circle cx="330.75" cy="233.31" r="1.75" fill="#333333"/>
<circle cx="336.11" cy="233.31" r="1.75" fill="#333333"/>
<circle cx="341.48" cy="233.31" r="1.75" fill="#333333"/>
<circle cx="346.84" cy="233.31" r="1.75" fill="#333333"/>
<circle cx="352.2" cy="233.31" r="1.75" fill="#333333"/>
<circle cx="357.57" cy="233.31" r="1.75" fill="#333333"/>
<circle cx="362.93" cy="233.31" r="1.75" fill="#333333"/>
<circle cx="364.72" cy="233.22" r="2.3" fill="#8a8a8a" fill-opacity="0.55" stroke="#555" stroke-width="0.5"/>
<circle cx="362.93" cy="233.22" r="1.6" fill="#333333"/>
<text x="369.32" y="235.54" font-size="5.6" fill="#444" textLength="11.2" lengthAdjust="spacingAndGlyphs" stroke="#444" stroke-width="0.15">Final</text>
<rect x="241.3" y="159.6" width="115.1" height="52.2" fill="#fff"/>
<text x="245.3" y="168.81" font-size="6.7" fill="#111" font-weight="bold">Loss</text>
<line x1="258.2" x2="288.2" y1="178.8" y2="178.8" stroke="#D95319" stroke-width="1.5"/>
<text x="291.7" y="181.21" font-size="6.7" fill="#222" stroke="#222" stroke-width="0.15">Training (smoothed)</text>
<line x1="258.2" x2="288.2" y1="191.7" y2="191.7" stroke="#F2BBA3" stroke-width="0.9"/>
<circle cx="273.2" cy="191.7" r="2.6" fill="#F2BBA3"/>
<text x="291.7" y="194.11" font-size="6.7" fill="#222" stroke="#222" stroke-width="0.15">Training</text>
<line x1="258.2" x2="288.2" y1="204.5" y2="204.5" stroke="#333333" stroke-width="0.9" stroke-dasharray="3.6 3.5"/>
<circle cx="273.2" cy="204.5" r="2.7" fill="#333333"/>
<text x="291.7" y="206.91" font-size="6.7" fill="#222" stroke="#222" stroke-width="0.15">Validation</text>
<text transform="translate(12.14,183.1) rotate(-90)" font-size="7.9" font-weight="bold" text-anchor="middle" fill="#111" stroke="#111" stroke-width="0.25" textLength="16" lengthAdjust="spacingAndGlyphs">Loss</text>
<text x="206.3" y="249.52" font-size="8.1" fill="#111" text-anchor="middle" font-weight="bold" textLength="31.7" lengthAdjust="spacingAndGlyphs" stroke="#111" stroke-width="0.25">Iteration</text>
<text x="395.2" y="14.56" font-size="6.55" fill="#111" font-weight="bold">Results</text>
<text x="395.2" y="26.26" font-size="6.55" fill="#222" stroke="#222" stroke-width="0.15">Validation accuracy:</text>
<text x="480.2" y="26.26" font-size="6.55" fill="#222" stroke="#222" stroke-width="0.15">100.00%</text>
<text x="395.2" y="38.16" font-size="6.55" fill="#222" stroke="#222" stroke-width="0.15">Training finished:</text>
<text x="480.2" y="38.16" font-size="6.55" fill="#222" stroke="#222" stroke-width="0.15">Reached final iteration</text>
<text x="395.2" y="55.26" font-size="6.55" fill="#111" font-weight="bold">Training Time</text>
<text x="395.2" y="66.36" font-size="6.55" fill="#222" stroke="#222" stroke-width="0.15">Start time:</text>
<text x="480.2" y="66.36" font-size="6.55" fill="#222" stroke="#222" stroke-width="0.15">2022-10-23 02:08:47</text>
<text x="395.2" y="78.56" font-size="6.55" fill="#222" stroke="#222" stroke-width="0.15">Elapsed time:</text>
<text x="480.2" y="78.56" font-size="6.55" fill="#222" stroke="#222" stroke-width="0.15">11 min 13 sec</text>
<text x="395.2" y="95.46" font-size="6.55" fill="#111" font-weight="bold">Training Cycle</text>
<text x="395.2" y="106.66" font-size="6.55" fill="#222" stroke="#222" stroke-width="0.15">Epoch:</text>
<text x="480.2" y="106.66" font-size="6.55" fill="#222" stroke="#222" stroke-width="0.15">50 of 50</text>
<text x="395.2" y="118.26" font-size="6.55" fill="#222" stroke="#222" stroke-width="0.15">Iteration:</text>
<text x="480.2" y="118.26" font-size="6.55" fill="#222" stroke="#222" stroke-width="0.15">1900 of 1900</text>
<text x="395.2" y="130.36" font-size="6.55" fill="#222" stroke="#222" stroke-width="0.15">Iterations per epoch:</text>
<text x="480.2" y="130.36" font-size="6.55" fill="#222" stroke="#222" stroke-width="0.15">38</text>
<text x="395.2" y="141.96" font-size="6.55" fill="#222" stroke="#222" stroke-width="0.15">Maximum iterations:</text>
<text x="480.2" y="141.96" font-size="6.55" fill="#222" stroke="#222" stroke-width="0.15">1900</text>
<text x="395.2" y="158.66" font-size="6.55" fill="#111" font-weight="bold">Validation</text>
<text x="395.2" y="170.56" font-size="6.55" fill="#222" stroke="#222" stroke-width="0.15">Frequency:</text>
<text x="480.2" y="170.56" font-size="6.55" fill="#222" stroke="#222" stroke-width="0.15">30 iterations</text>
<text x="395.2" y="187.56" font-size="6.55" fill="#111" font-weight="bold">Other Information</text>
<text x="395.2" y="198.96" font-size="6.55" fill="#222" stroke="#222" stroke-width="0.15">Hardware resource:</text>
<text x="480.2" y="198.96" font-size="6.55" fill="#222" stroke="#222" stroke-width="0.15">Single GPU</text>
<text x="395.2" y="210.76" font-size="6.55" fill="#222" stroke="#222" stroke-width="0.15">Learning rate schedule:</text>
<text x="480.2" y="210.76" font-size="6.55" fill="#222" stroke="#222" stroke-width="0.15">Constant</text>
<text x="395.2" y="222.36" font-size="6.55" fill="#222" stroke="#222" stroke-width="0.15">Learning rate:</text>
<text x="480.2" y="222.36" font-size="6.55" fill="#222" stroke="#222" stroke-width="0.15">0.0003</text>
<text x="276" y="265.1" font-size="10.6" fill="#111" text-anchor="middle" stroke="#111" stroke-width="0.15" font-family='"Liberation Serif", "Times New Roman", serif'>(<tspan font-weight="bold">a</tspan>)</text>
<rect x="38.4" y="269.5" width="6.54" height="5.3" fill="#EDEDED"/>
<rect x="38.4" y="274.8" width="6.54" height="114.1" fill="#E5E5E5"/>
<rect x="51.49" y="269.5" width="6.54" height="5.3" fill="#EDEDED"/>
<rect x="51.49" y="274.8" width="6.54" height="114.1" fill="#E5E5E5"/>
<rect x="64.57" y="269.5" width="6.54" height="5.3" fill="#EDEDED"/>
<rect x="64.57" y="274.8" width="6.54" height="114.1" fill="#E5E5E5"/>
<rect x="77.65" y="269.5" width="6.54" height="5.3" fill="#EDEDED"/>
<rect x="77.65" y="274.8" width="6.54" height="114.1" fill="#E5E5E5"/>
<rect x="90.74" y="269.5" width="6.54" height="5.3" fill="#EDEDED"/>
<rect x="90.74" y="274.8" width="6.54" height="114.1" fill="#E5E5E5"/>
<rect x="103.82" y="269.5" width="6.54" height="5.3" fill="#EDEDED"/>
<rect x="103.82" y="274.8" width="6.54" height="114.1" fill="#E5E5E5"/>
<rect x="116.9" y="269.5" width="6.54" height="5.3" fill="#EDEDED"/>
<rect x="116.9" y="274.8" width="6.54" height="114.1" fill="#E5E5E5"/>
<rect x="129.99" y="269.5" width="6.54" height="5.3" fill="#EDEDED"/>
<rect x="129.99" y="274.8" width="6.54" height="114.1" fill="#E5E5E5"/>
<rect x="143.07" y="269.5" width="6.54" height="5.3" fill="#EDEDED"/>
<rect x="143.07" y="274.8" width="6.54" height="114.1" fill="#E5E5E5"/>
<rect x="156.15" y="269.5" width="6.54" height="5.3" fill="#EDEDED"/>
<rect x="156.15" y="274.8" width="6.54" height="114.1" fill="#E5E5E5"/>
<rect x="169.24" y="269.5" width="6.54" height="5.3" fill="#EDEDED"/>
<rect x="169.24" y="274.8" width="6.54" height="114.1" fill="#E5E5E5"/>
<rect x="182.32" y="269.5" width="6.54" height="5.3" fill="#EDEDED"/>
<rect x="182.32" y="274.8" width="6.54" height="114.1" fill="#E5E5E5"/>
<rect x="195.4" y="269.5" width="6.54" height="5.3" fill="#EDEDED"/>
<rect x="195.4" y="274.8" width="6.54" height="114.1" fill="#E5E5E5"/>
<rect x="208.49" y="269.5" width="6.54" height="5.3" fill="#EDEDED"/>
<rect x="208.49" y="274.8" width="6.54" height="114.1" fill="#E5E5E5"/>
<rect x="221.57" y="269.5" width="6.54" height="5.3" fill="#EDEDED"/>
<rect x="221.57" y="274.8" width="6.54" height="114.1" fill="#E5E5E5"/>
<rect x="234.65" y="269.5" width="6.54" height="5.3" fill="#EDEDED"/>
<rect x="234.65" y="274.8" width="6.54" height="114.1" fill="#E5E5E5"/>
<rect x="247.74" y="269.5" width="6.54" height="5.3" fill="#EDEDED"/>
<rect x="247.74" y="274.8" width="6.54" height="114.1" fill="#E5E5E5"/>
<rect x="260.82" y="269.5" width="6.54" height="5.3" fill="#EDEDED"/>
<rect x="260.82" y="274.8" width="6.54" height="114.1" fill="#E5E5E5"/>
<rect x="273.9" y="269.5" width="6.54" height="5.3" fill="#EDEDED"/>
<rect x="273.9" y="274.8" width="6.54" height="114.1" fill="#E5E5E5"/>
<rect x="286.99" y="269.5" width="6.54" height="5.3" fill="#EDEDED"/>
<rect x="286.99" y="274.8" width="6.54" height="114.1" fill="#E5E5E5"/>
<rect x="300.07" y="269.5" width="6.54" height="5.3" fill="#EDEDED"/>
<rect x="300.07" y="274.8" width="6.54" height="114.1" fill="#E5E5E5"/>
<rect x="313.15" y="269.5" width="6.54" height="5.3" fill="#EDEDED"/>
<rect x="313.15" y="274.8" width="6.54" height="114.1" fill="#E5E5E5"/>
<rect x="326.24" y="269.5" width="6.54" height="5.3" fill="#EDEDED"/>
<rect x="326.24" y="274.8" width="6.54" height="114.1" fill="#E5E5E5"/>
<rect x="339.32" y="269.5" width="6.54" height="5.3" fill="#EDEDED"/>
<rect x="339.32" y="274.8" width="6.54" height="114.1" fill="#E5E5E5"/>
<rect x="352.4" y="269.5" width="6.54" height="5.3" fill="#EDEDED"/>
<rect x="352.4" y="274.8" width="6.54" height="114.1" fill="#E5E5E5"/>
<line x1="31.6" x2="375.6" y1="377.52" y2="377.52" stroke="#000" stroke-opacity="0.07" stroke-width="0.6"/>
<line x1="31.6" x2="375.6" y1="366.14" y2="366.14" stroke="#000" stroke-opacity="0.07" stroke-width="0.6"/>
<line x1="31.6" x2="375.6" y1="354.76" y2="354.76" stroke="#000" stroke-opacity="0.07" stroke-width="0.6"/>
<line x1="31.6" x2="375.6" y1="343.38" y2="343.38" stroke="#000" stroke-opacity="0.07" stroke-width="0.6"/>
<line x1="31.6" x2="375.6" y1="332" y2="332" stroke="#000" stroke-opacity="0.07" stroke-width="0.6"/>
<line x1="31.6" x2="375.6" y1="320.62" y2="320.62" stroke="#000" stroke-opacity="0.07" stroke-width="0.6"/>
<line x1="31.6" x2="375.6" y1="309.24" y2="309.24" stroke="#000" stroke-opacity="0.07" stroke-width="0.6"/>
<line x1="31.6" x2="375.6" y1="297.86" y2="297.86" stroke="#000" stroke-opacity="0.07" stroke-width="0.6"/>
<line x1="31.6" x2="375.6" y1="286.48" y2="286.48" stroke="#000" stroke-opacity="0.07" stroke-width="0.6"/>
<line x1="31.6" x2="375.6" y1="275.1" y2="275.1" stroke="#000" stroke-opacity="0.07" stroke-width="0.6"/>
<line x1="31.6" x2="31.6" y1="269.5" y2="388.9" stroke="#A8A8A8" stroke-width="0.8"/>
<line x1="31.6" x2="375.6" y1="388.9" y2="388.9" stroke="#A8A8A8" stroke-width="0.8"/>
<line x1="31.6" x2="31.6" y1="388.9" y2="386.1" stroke="#A8A8A8" stroke-width="0.7"/>
<text x="31.6" y="396.81" font-size="5.3" fill="#333333" text-anchor="middle" stroke="#333333" stroke-width="0.15">0</text>
<line x1="66" x2="66" y1="388.9" y2="386.1" stroke="#A8A8A8" stroke-width="0.7"/>
<text x="66" y="396.81" font-size="5.3" fill="#333333" text-anchor="middle" stroke="#333333" stroke-width="0.15">200</text>
<line x1="100.4" x2="100.4" y1="388.9" y2="386.1" stroke="#A8A8A8" stroke-width="0.7"/>
<text x="100.4" y="396.81" font-size="5.3" fill="#333333" text-anchor="middle" stroke="#333333" stroke-width="0.15">400</text>
<line x1="134.8" x2="134.8" y1="388.9" y2="386.1" stroke="#A8A8A8" stroke-width="0.7"/>
<text x="134.8" y="396.81" font-size="5.3" fill="#333333" text-anchor="middle" stroke="#333333" stroke-width="0.15">600</text>
<line x1="169.2" x2="169.2" y1="388.9" y2="386.1" stroke="#A8A8A8" stroke-width="0.7"/>
<text x="169.2" y="396.81" font-size="5.3" fill="#333333" text-anchor="middle" stroke="#333333" stroke-width="0.15">800</text>
<line x1="203.6" x2="203.6" y1="388.9" y2="386.1" stroke="#A8A8A8" stroke-width="0.7"/>
<text x="203.6" y="396.81" font-size="5.3" fill="#333333" text-anchor="middle" stroke="#333333" stroke-width="0.15">1000</text>
<line x1="238" x2="238" y1="388.9" y2="386.1" stroke="#A8A8A8" stroke-width="0.7"/>
<text x="238" y="396.81" font-size="5.3" fill="#333333" text-anchor="middle" stroke="#333333" stroke-width="0.15">1200</text>
<line x1="272.4" x2="272.4" y1="388.9" y2="386.1" stroke="#A8A8A8" stroke-width="0.7"/>
<text x="272.4" y="396.81" font-size="5.3" fill="#333333" text-anchor="middle" stroke="#333333" stroke-width="0.15">1400</text>
<line x1="306.8" x2="306.8" y1="388.9" y2="386.1" stroke="#A8A8A8" stroke-width="0.7"/>
<text x="306.8" y="396.81" font-size="5.3" fill="#333333" text-anchor="middle" stroke="#333333" stroke-width="0.15">1600</text>
<line x1="341.2" x2="341.2" y1="388.9" y2="386.1" stroke="#A8A8A8" stroke-width="0.7"/>
<text x="341.2" y="396.81" font-size="5.3" fill="#333333" text-anchor="middle" stroke="#333333" stroke-width="0.15">1800</text>
<line x1="375.6" x2="375.6" y1="388.9" y2="386.1" stroke="#A8A8A8" stroke-width="0.7"/>
<text x="375.6" y="396.81" font-size="5.3" fill="#333333" text-anchor="middle" stroke="#333333" stroke-width="0.15">2000</text>
<line x1="31.6" x2="34.4" y1="388.9" y2="388.9" stroke="#A8A8A8" stroke-width="0.7"/>
<text x="29" y="391.31" font-size="5.3" fill="#333333" text-anchor="end" stroke="#333333" stroke-width="0.15">0</text>
<line x1="31.6" x2="34.4" y1="377.52" y2="377.52" stroke="#A8A8A8" stroke-width="0.7"/>
<text x="29" y="379.93" font-size="5.3" fill="#333333" text-anchor="end" stroke="#333333" stroke-width="0.15">10</text>
<line x1="31.6" x2="34.4" y1="366.14" y2="366.14" stroke="#A8A8A8" stroke-width="0.7"/>
<text x="29" y="368.55" font-size="5.3" fill="#333333" text-anchor="end" stroke="#333333" stroke-width="0.15">20</text>
<line x1="31.6" x2="34.4" y1="354.76" y2="354.76" stroke="#A8A8A8" stroke-width="0.7"/>
<text x="29" y="357.17" font-size="5.3" fill="#333333" text-anchor="end" stroke="#333333" stroke-width="0.15">30</text>
<line x1="31.6" x2="34.4" y1="343.38" y2="343.38" stroke="#A8A8A8" stroke-width="0.7"/>
<text x="29" y="345.79" font-size="5.3" fill="#333333" text-anchor="end" stroke="#333333" stroke-width="0.15">40</text>
<line x1="31.6" x2="34.4" y1="332" y2="332" stroke="#A8A8A8" stroke-width="0.7"/>
<text x="29" y="334.41" font-size="5.3" fill="#333333" text-anchor="end" stroke="#333333" stroke-width="0.15">50</text>
<line x1="31.6" x2="34.4" y1="320.62" y2="320.62" stroke="#A8A8A8" stroke-width="0.7"/>
<text x="29" y="323.03" font-size="5.3" fill="#333333" text-anchor="end" stroke="#333333" stroke-width="0.15">60</text>
<line x1="31.6" x2="34.4" y1="309.24" y2="309.24" stroke="#A8A8A8" stroke-width="0.7"/>
<text x="29" y="311.65" font-size="5.3" fill="#333333" text-anchor="end" stroke="#333333" stroke-width="0.15">70</text>
<line x1="31.6" x2="34.4" y1="297.86" y2="297.86" stroke="#A8A8A8" stroke-width="0.7"/>
<text x="29" y="300.27" font-size="5.3" fill="#333333" text-anchor="end" stroke="#333333" stroke-width="0.15">80</text>
<line x1="31.6" x2="34.4" y1="286.48" y2="286.48" stroke="#A8A8A8" stroke-width="0.7"/>
<text x="29" y="288.89" font-size="5.3" fill="#333333" text-anchor="end" stroke="#333333" stroke-width="0.15">90</text>
<line x1="31.6" x2="34.4" y1="275.1" y2="275.1" stroke="#A8A8A8" stroke-width="0.7"/>
<text x="29" y="277.51" font-size="5.3" fill="#333333" text-anchor="end" stroke="#333333" stroke-width="0.15">100</text>
<text x="94.51" y="385.9" font-size="6.4" fill="#555" text-anchor="middle" stroke="#555" stroke-width="0.15">10</text>
<text x="159.92" y="385.9" font-size="6.4" fill="#555" text-anchor="middle" stroke="#555" stroke-width="0.15">20</text>
<text x="225.34" y="385.9" font-size="6.4" fill="#555" text-anchor="middle" stroke="#555" stroke-width="0.15">30</text>
<text x="290.76" y="385.9" font-size="6.4" fill="#555" text-anchor="middle" stroke="#555" stroke-width="0.15">40</text>
<text x="356.17" y="385.9" font-size="6.4" fill="#555" text-anchor="middle" stroke="#555" stroke-width="0.15">50</text>
<polyline points="31.86,334.28 32.03,288.76 32.2,278.51 32.38,275.67 32.55,275.1 32.89,275.1 33.07,276.42 33.24,276.06 33.41,275.1 33.58,275.99 33.75,275.81 33.93,275.22 34.1,275.1 34.27,275.1 34.44,275.42 34.61,275.1 35.3,275.1 35.48,277.55 35.65,275.1 35.82,275.26 35.99,275.1 36.16,275.1 36.34,276.19 36.51,275.1 36.85,275.1 37.02,275.18 37.2,276.53 37.37,275.1 39.61,275.1 39.78,275.78 39.95,275.1 40.12,275.94 40.3,276.48 40.47,275.1 42.36,275.1 42.53,276.61 42.71,275.1 42.88,275.1 43.05,284.2 43.22,275.1 43.57,275.1 43.74,275.88 43.91,275.26 44.08,276.93 44.25,275.46 44.43,275.1 44.6,275.1 44.77,275.85 44.94,275.1 46.32,275.1 46.49,275.34 46.66,275.1 47.35,275.1 47.53,275.78 47.7,275.1 48.73,275.1 48.9,277.98 49.08,275.1 49.76,275.1 49.94,276.36 50.11,275.19 50.28,275.32 50.45,275.1 50.62,275.1 50.8,275.23 50.97,275.1 51.14,277.7 51.31,275.1 51.49,275.46 51.66,275.1 51.83,275.1 52,277.47 52.17,275.1 52.52,275.1 52.69,275.23 52.86,275.1 53.21,275.1 53.38,275.13 53.55,275.1 53.72,275.1 53.9,276.08 54.07,276.04 54.24,275.1 54.93,275.1 55.1,276.95 55.27,275.1 57.34,275.1 57.51,275.14 57.68,275.1 59.23,275.1 59.4,283.63 59.58,275.39 59.75,275.1 60.61,275.1 60.78,276.45 60.95,275.1 61.47,275.1 61.64,277.05 61.81,275.1 61.99,284.2 62.16,275.1 62.85,275.1 63.02,275.27 63.19,278.04 63.36,275.1 63.54,277.29 63.71,275.1 64.22,275.1 64.4,275.12 64.57,275.1 65.6,275.1 65.77,275.46 65.95,275.1 66.63,275.1 66.81,278.11 66.98,275.1 68.36,275.1 68.53,275.83 68.7,275.1 68.87,275.1 69.04,275.9 69.22,275.1 70.08,275.1 70.25,276.13 70.42,275.1 73,275.1 73.18,280.79 73.35,275.1 74.21,275.1 74.38,275.26 74.55,275.1 74.73,275.44 74.9,276.49 75.07,275.1 75.24,275.1 75.41,276.68 75.59,275.1 75.76,277.78 75.93,275.1 76.1,278.51 76.27,275.1 76.79,275.1 76.96,275.81 77.14,275.1 77.31,275.1 77.48,275.58 77.65,275.1 77.82,276.11 78,275.1 78.17,275.6 78.34,275.1 78.51,275.1 78.68,278.51 78.86,275.1 79.03,275.1 79.2,275.49 79.37,276.99 79.55,275.1 79.72,275.79 79.89,275.1 80.23,275.1 80.41,278.25 80.58,275.1 80.75,275.1 80.92,275.17 81.09,275.1 81.27,275.1 81.44,278.51 81.61,275.1 81.78,275.1 81.96,277.53 82.13,277.59 82.3,275.1 82.99,275.1 83.16,276.04 83.33,275.1 83.5,275.32 83.68,275.38 83.85,275.1 84.54,275.1 84.71,275.63 84.88,275.46 85.05,276.75 85.23,275.1 85.4,275.91 85.57,275.1 85.74,277.24 85.92,275.1 87.98,275.1 88.15,275.27 88.33,276.79 88.5,275.1 88.67,275.21 88.84,275.1 89.87,275.1 90.05,275.84 90.22,275.1 91.42,275.1 91.6,275.7 91.77,275.1 91.94,275.1 92.11,275.98 92.28,275.48 92.46,275.74 92.63,275.13 92.8,275.1 94.52,275.1 94.69,276.71 94.87,275.1 95.04,277.36 95.21,275.1 95.38,275.1 95.56,280.79 95.73,275.1 95.9,276.03 96.07,275.1 97.45,275.1 97.62,275.28 97.79,275.1 97.97,277.36 98.14,275.1 98.83,275.1 99,277.1 99.17,275.1 99.69,275.1 99.86,276.77 100.03,275.1 100.2,275.49 100.38,275.1 100.55,276.79 100.72,275.1 101.93,275.1 102.1,275.3 102.27,275.1 102.79,275.1 102.96,275.18 103.13,275.1 104.34,275.1 104.51,277.91 104.68,278.51 104.85,275.1 105.02,275.87 105.2,275.1 105.71,275.1 105.88,278.51 106.06,276.19 106.23,276.03 106.4,275.1 106.57,277.25 106.75,275.1 107.61,275.1 107.78,275.1 107.95,275.1 108.29,275.1 108.47,275.63 108.64,275.1 108.81,275.1 108.98,276.84 109.16,275.1 109.33,278.37 109.5,275.1 111.05,275.1 111.22,275.23 111.39,275.1 112.25,275.1 112.43,275.69 112.6,275.1 113.8,275.1 113.98,276.75 114.15,275.1 114.66,275.1 114.84,278.37 115.01,275.9 115.18,275.1 116.56,275.1 116.73,275.32 116.9,278.06 117.07,275.1 117.76,275.1 117.94,275.37 118.11,275.62 118.28,275.44 118.45,275.1 119.83,275.1 120,275.51 120.17,275.1 120.35,275.98 120.52,275.1 120.69,275.1 120.86,275.5 121.03,275.1 121.21,275.1 121.38,279.65 121.55,275.1 121.89,275.1 122.07,275.14 122.24,275.1 122.76,275.1 122.93,275.72 123.1,275.1 123.79,275.1 123.96,275.31 124.13,275.1 125.34,275.1 125.51,277.01 125.68,275.1 126.2,275.1 126.37,275.46 126.54,275.1 126.71,275.1 126.89,275.19 127.06,275.1 127.75,275.1 127.92,275.55 128.09,275.1 129.64,275.1 129.81,275.96 129.99,275.1 130.85,275.1 131.02,275.62 131.19,275.1 131.36,275.1 131.53,277.1 131.71,275.1 131.88,275.1 132.05,278.51 132.22,275.1 133.43,275.1 133.6,275.42 133.77,275.1 134.12,275.1 134.29,275.73 134.46,278.51 134.63,275.17 134.81,275.73 134.98,275.1 136.36,275.1 136.53,276.47 136.7,275.1 137.22,275.1 137.39,275.51 137.56,275.1 137.73,275.1 137.9,278.51 138.08,275.1 138.77,275.1 138.94,275.9 139.11,275.1 139.8,275.1 139.97,275.76 140.14,275.1 140.31,275.1 140.49,275.14 140.66,278.26 140.83,275.1 142.55,275.1 142.72,276.86 142.9,275.1 143.24,275.1 143.41,275.43 143.59,275.1 146.51,275.1 146.68,275.38 146.86,275.1 147.03,275.1 147.2,275.14 147.37,275.1 148.23,275.1 148.41,275.23 148.58,275.1 150.13,275.1 150.3,277.4 150.47,275.1 151.5,275.1 151.68,277.8 151.85,275.1 152.19,275.1 152.37,280.79 152.54,275.1 153.23,275.1 153.4,275.91 153.57,275.1 153.91,275.1 154.09,275.54 154.26,275.36 154.43,275.1 155.81,275.1 155.98,276.24 156.15,275.1 156.5,275.1 156.67,275.39 156.84,275.1 157.36,275.1 157.53,275.6 157.7,275.1 158.56,275.1 158.73,275.23 158.91,275.1 159.25,275.1 159.42,275.32 159.6,275.1 162.01,275.1 162.18,278 162.35,275.1 163.21,275.1 163.38,276.1 163.55,275.1 163.73,275.1 163.9,276.32 164.07,275.1 164.24,275.1 164.42,275.52 164.59,275.1 164.76,275.1 164.93,275.94 165.1,275.1 165.45,275.1 165.62,278.51 165.79,275.1 165.96,275.1 166.14,278.36 166.31,275.1 168.72,275.1 168.89,275.46 169.06,275.1 169.24,275.1 169.41,276.13 169.58,275.1 169.75,277.38 169.92,276.25 170.1,275.1 171.47,275.1 171.65,276.31 171.82,275.1 172.85,275.1 173.02,275.27 173.2,275.1 173.37,275.83 173.54,275.1 173.71,276.37 173.88,276.76 174.06,275.1 174.23,275.1 174.4,275.98 174.57,275.1 174.74,275.1 174.92,277.54 175.09,275.1 176.81,275.1 176.98,275.64 177.15,275.1 177.33,277.94 177.5,275.1 177.67,275.1 177.84,275.97 178.02,275.1 178.7,275.1 178.88,275.35 179.05,275.1 179.74,275.1 179.91,279.65 180.08,276.05 180.25,275.1 181.11,275.1 181.29,278.51 181.46,275.1 183.18,275.1 183.35,277.25 183.52,275.1 184.38,275.1 184.56,275.14 184.73,276.3 184.9,275.1 185.25,275.1 185.42,275.42 185.59,275.1 185.76,275.1 185.93,275.1 186.11,275.65 186.28,275.1 187.14,275.1 187.31,278.51 187.48,275.1 187.66,275.23 187.83,275.1 188.52,275.1 188.69,276.4 188.86,275.1 190.07,275.1 190.24,276.05 190.41,275.1 190.58,275.1 190.75,276.99 190.93,276.1 191.1,275.1 191.27,275.38 191.44,275.1 192.48,275.1 192.65,277.86 192.82,275.1 192.99,275.1 193.16,277.43 193.34,275.1 194.03,275.1 194.2,275.43 194.37,275.61 194.54,275.1 196.78,275.1 196.95,275.48 197.12,275.1 200.91,275.1 201.08,278.13 201.26,275.13 201.43,278.41 201.6,275.1 201.77,275.14 201.94,276.58 202.12,275.1 202.46,275.1 202.63,276.22 202.8,275.1 203.32,275.1 203.49,277.63 203.67,275.1 203.84,275.1 204.01,275.39 204.18,275.14 204.35,275.1 205.22,275.1 205.39,275.23 205.56,275.1 205.73,281.93 205.9,275.1 206.08,275.1 206.25,275.47 206.42,275.1 207.63,275.1 207.8,275.77 207.97,275.1 209,275.1 209.17,277.25 209.35,275.1 209.52,275.38 209.69,275.1 209.86,275.1 210.04,275.94 210.21,275.1 212.1,275.1 212.27,276.37 212.45,277.04 212.62,275.1 213.65,275.1 213.82,277.85 213.99,275.39 214.17,275.1 216.23,275.1 216.4,277.42 216.58,275.1 217.44,275.1 217.61,275.88 217.78,275.1 218.64,275.1 218.81,275.31 218.99,275.1 220.19,275.1 220.36,278.51 220.54,275.71 220.71,275.1 221.57,275.1 221.74,275.39 221.91,275.1 222.09,275.74 222.26,275.1 222.95,275.1 223.12,276.26 223.29,275.1 226.22,275.1 226.39,275.78 226.56,275.1 229.14,275.1 229.32,276.08 229.49,275.1 230,275.1 230.18,276.17 230.35,275.1 232.24,275.1 232.41,278.51 232.59,275.1 232.76,275.5 232.93,275.1 233.1,275.78 233.28,275.1 235.17,275.1 235.34,276.98 235.51,275.1 237.58,275.1 237.75,277.35 237.92,275.1 238.96,275.1 239.13,276.7 239.3,275.1 240.85,275.1 241.02,277.3 241.19,275.1 241.37,275.1 241.54,277.33 241.71,275.1 241.88,275.11 242.06,275.1 242.4,275.1 242.57,275.29 242.74,275.1 243.09,275.1 243.26,278.03 243.43,275.1 243.6,279.65 243.78,275.1 246.36,275.1 246.53,275.95 246.7,275.89 246.88,275.95 247.05,275.1 247.39,275.1 247.56,277.4 247.74,275.1 248.77,275.1 248.94,276.37 249.11,275.1 249.29,276.28 249.46,275.1 250.49,275.1 250.66,276.69 250.83,275.1 255.31,275.1 255.48,276.71 255.65,275.1 255.83,275.1 256,275.55 256.17,275.36 256.34,275.1 258.75,275.1 258.93,275.35 259.1,276.96 259.27,275.1 261.34,275.1 261.51,276.15 261.68,275.26 261.85,275.1 262.37,275.1 262.54,275.71 262.71,275.1 263.4,275.1 263.57,276.39 263.75,275.1 263.92,275.12 264.09,276.54 264.26,278.51 264.43,277.65 264.61,275.12 264.78,275.1 265.3,275.1 265.47,276.96 265.64,275.1 265.98,275.1 266.16,276.34 266.33,275.1 267.19,275.1 267.36,275.12 267.53,275.1 267.71,275.1 267.88,275.57 268.05,275.1 268.57,275.1 268.74,275.67 268.91,275.1 269.25,275.1 269.43,277.1 269.6,275.1 271.15,275.1 271.32,278.51 271.49,275.1 272.7,275.1 272.87,279.65 273.04,275.1 274.08,275.1 274.25,275.48 274.42,275.1 274.94,275.1 275.11,277.34 275.28,275.1 276.66,275.1 276.83,276.11 277,275.1 279.07,275.1 279.24,277.16 279.41,275.1 281.99,275.1 282.17,275.16 282.34,275.1 282.51,275.1 282.68,276.35 282.85,275.1 283.03,276.24 283.2,275.1 283.37,275.1 283.54,275.14 283.72,275.1 285.61,275.1 285.78,275.38 285.95,275.1 286.13,275.17 286.3,275.1 286.99,275.1 287.16,276.24 287.33,275.1 287.5,278.51 287.67,275.1 288.71,275.1 288.88,278.51 289.05,275.1 289.22,275.1 289.4,275.47 289.57,275.1 290.09,275.1 290.26,277.03 290.43,275.1 290.77,275.1 290.95,275.3 291.12,275.1 291.98,275.1 292.15,275.59 292.32,275.1 292.5,275.92 292.67,275.1 292.84,275.1 293.01,276.52 293.18,276.68 293.36,275.1 293.53,278.39 293.7,275.1 294.22,275.1 294.39,275.84 294.56,278.41 294.73,275.1 295.77,275.1 295.94,275.41 296.11,276.67 296.28,275.1 296.45,277.66 296.63,275.1 296.8,275.1 296.97,275.5 297.14,275.1 298,275.1 298.18,278.51 298.35,277.92 298.52,275.1 300.07,275.1 300.24,275.53 300.41,275.1 300.59,276.72 300.76,275.1 300.93,275.1 301.1,277.16 301.27,275.1 301.45,275.1 301.62,275.1 302.65,275.1 302.82,275.35 303,275.1 303.34,275.1 303.51,275.21 303.68,275.1 305.06,275.1 305.23,276.75 305.41,275.1 305.58,275.1 305.75,277.18 305.92,275.1 306.44,275.1 306.61,278.12 306.78,275.1 307.13,275.1 307.3,279.65 307.47,275.1 308.16,275.1 308.33,276.02 308.51,275.1 308.68,275.1 308.85,276.67 309.02,275.1 309.88,275.1 310.05,277.68 310.23,275.1 310.92,275.1 311.09,278.51 311.26,275.1 311.43,275.1 311.6,275.46 311.78,275.1 311.95,275.23 312.12,275.1 312.29,275.1 312.46,276.25 312.64,275.1 312.98,275.1 313.15,277.65 313.33,275.1 313.5,275.26 313.67,275.1 314.01,275.1 314.19,275.75 314.36,276.22 314.53,275.1 314.7,276.16 314.87,275.1 318.15,275.1 318.32,276.01 318.49,275.1 319.52,275.1 319.69,275.81 319.87,275.1 320.04,275.29 320.21,275.1 321.24,275.1 321.42,276.38 321.59,275.1 323.65,275.1 323.83,276.23 324,275.1 324.69,275.1 324.86,275.27 325.03,275.54 325.2,275.1 325.55,275.1 325.72,276.09 325.89,275.1 328.47,275.1 328.65,275.64 328.82,275.1 330.02,275.1 330.2,275.19 330.37,275.1 330.54,275.1 330.71,275.71 330.88,275.1 331.06,275.1 331.23,275.42 331.4,275.1 331.57,275.1 331.75,275.61 331.92,275.1 333.98,275.1 334.16,277.66 334.33,276.92 334.5,275.1 338.29,275.1 338.46,276.17 338.63,275.1 338.8,278.26 338.98,275.1 339.84,275.1 340.01,279.08 340.18,275.16 340.35,275.1 342.94,275.1 343.11,275.69 343.28,275.1 346.03,275.1 346.21,277.92 346.38,275.1 347.07,275.1 347.24,275.53 347.41,275.1 348.79,275.1 348.96,275.76 349.13,275.1 349.48,275.1 349.65,275.55 349.82,275.1 351.71,275.1 351.89,275.31 352.06,275.1 352.23,275.23 352.4,275.1 353.09,275.1 353.26,275.12 353.44,275.1 354.3,275.1 354.47,278.03 354.64,275.1 355.16,275.1 355.33,277.87 355.5,275.1 356.19,275.1 356.36,278.44 356.53,275.1 358.94,275.1" fill="none" stroke="#8DC1E6" stroke-width="0.6" stroke-opacity="1.0" stroke-linejoin="round"/>
<polyline points="31.86,334.28 32.03,316.07 32.2,301.05 32.38,290.9 32.55,284.58 32.72,280.79 32.89,278.51 33.07,277.67 33.24,277.03 33.41,276.26 33.58,276.15 33.75,276.01 33.93,275.7 34.1,275.46 34.27,275.31 34.44,275.36 34.61,275.25 34.79,275.19 34.96,275.16 35.13,275.13 35.3,275.12 35.48,276.09 35.65,275.69 35.82,275.52 35.99,275.35 36.16,275.25 36.34,275.63 36.51,275.42 36.68,275.29 36.85,275.21 37.02,275.2 37.2,275.73 37.37,275.48 37.54,275.33 37.71,275.24 37.89,275.18 38.06,275.15 38.23,275.13 38.4,275.12 38.57,275.11 38.75,275.11 38.92,275.1 39.09,275.1 39.61,275.1 39.78,275.37 39.95,275.26 40.12,275.53 40.3,275.91 40.47,275.59 40.64,275.39 40.81,275.28 40.98,275.21 41.16,275.16 41.33,275.14 41.5,275.12 41.67,275.11 41.84,275.11 42.02,275.1 42.19,275.1 42.36,275.1 42.53,275.71 42.71,275.46 42.88,275.32 43.05,278.87 43.22,277.36 43.39,276.46 43.57,275.91 43.74,275.9 43.91,275.64 44.08,276.16 44.25,275.88 44.43,275.57 44.6,275.38 44.77,275.57 44.94,275.38 45.12,275.27 45.29,275.2 45.46,275.16 45.63,275.14 45.8,275.12 45.98,275.11 46.15,275.11 46.32,275.1 46.49,275.2 46.66,275.16 46.84,275.14 47.01,275.12 47.18,275.11 47.35,275.11 47.53,275.38 47.7,275.27 47.87,275.2 48.04,275.16 48.21,275.14 48.39,275.12 48.56,275.11 48.73,275.11 48.9,276.26 49.08,275.79 49.25,275.52 49.42,275.35 49.59,275.25 49.76,275.19 49.94,275.66 50.11,275.47 50.28,275.41 50.45,275.29 50.62,275.21 50.8,275.22 50.97,275.17 51.14,276.18 51.31,275.75 51.49,275.64 51.66,275.42 51.83,275.29 52,276.16 52.17,275.74 52.35,275.48 52.52,275.33 52.69,275.29 52.86,275.21 53.03,275.17 53.21,275.14 53.38,275.14 53.55,275.12 53.72,275.11 53.9,275.5 54.07,275.72 54.24,275.47 54.41,275.32 54.58,275.23 54.76,275.18 54.93,275.15 55.1,275.87 55.27,275.56 55.44,275.38 55.62,275.27 55.79,275.2 55.96,275.16 56.13,275.14 56.31,275.12 56.48,275.11 56.65,275.11 56.82,275.1 56.99,275.1 57.34,275.1 57.51,275.11 57.68,275.11 57.85,275.11 58.03,275.1 58.2,275.1 59.23,275.1 59.4,278.51 59.58,277.26 59.75,276.4 59.92,275.88 60.09,275.57 60.26,275.38 60.44,275.27 60.61,275.2 60.78,275.7 60.95,275.46 61.13,275.32 61.3,275.23 61.47,275.18 61.64,275.93 61.81,275.6 61.99,279.04 62.16,277.46 62.33,276.52 62.5,275.95 62.67,275.61 62.85,275.41 63.02,275.35 63.19,276.43 63.36,275.9 63.54,276.46 63.71,275.91 63.88,275.59 64.05,275.39 64.22,275.28 64.4,275.21 64.57,275.17 64.74,275.14 64.91,275.12 65.08,275.11 65.26,275.11 65.43,275.11 65.6,275.1 65.77,275.25 65.95,275.19 66.12,275.15 66.29,275.13 66.46,275.12 66.63,275.11 66.81,276.31 66.98,275.83 67.15,275.54 67.32,275.36 67.5,275.26 67.67,275.19 67.84,275.16 68.01,275.13 68.18,275.12 68.36,275.11 68.53,275.4 68.7,275.28 68.87,275.21 69.04,275.49 69.22,275.33 69.39,275.24 69.56,275.18 69.73,275.15 69.91,275.13 70.08,275.12 70.25,275.52 70.42,275.35 70.59,275.25 70.77,275.19 70.94,275.15 71.11,275.13 71.28,275.12 71.45,275.11 71.63,275.11 71.8,275.1 71.97,275.1 73,275.1 73.18,277.38 73.35,276.47 73.52,275.92 73.69,275.59 73.86,275.39 74.04,275.28 74.21,275.21 74.38,275.23 74.55,275.18 74.73,275.28 74.9,275.76 75.07,275.5 75.24,275.34 75.41,275.87 75.59,275.56 75.76,276.45 75.93,275.91 76.1,276.95 76.27,276.21 76.45,275.77 76.62,275.5 76.79,275.34 76.96,275.53 77.14,275.36 77.31,275.25 77.48,275.38 77.65,275.27 77.82,275.61 78,275.4 78.17,275.48 78.34,275.33 78.51,275.24 78.68,276.55 78.86,275.97 79.03,275.62 79.2,275.57 79.37,276.14 79.55,275.72 79.72,275.75 79.89,275.49 80.06,275.33 80.23,275.24 80.41,276.44 80.58,275.91 80.75,275.58 80.92,275.42 81.09,275.29 81.27,275.22 81.44,276.53 81.61,275.96 81.78,275.62 81.96,276.38 82.13,276.86 82.3,276.16 82.47,275.73 82.64,275.48 82.82,275.33 82.99,275.24 83.16,275.56 83.33,275.37 83.5,275.35 83.68,275.36 83.85,275.26 84.02,275.2 84.19,275.16 84.37,275.13 84.54,275.12 84.71,275.33 84.88,275.38 85.05,275.93 85.23,275.6 85.4,275.72 85.57,275.47 85.74,276.18 85.92,275.75 86.09,275.49 86.26,275.33 86.43,275.24 86.6,275.18 86.78,275.15 86.95,275.13 87.12,275.12 87.29,275.11 87.46,275.11 87.64,275.1 87.81,275.1 87.98,275.1 88.15,275.17 88.33,275.82 88.5,275.53 88.67,275.4 88.84,275.28 89.01,275.21 89.19,275.17 89.36,275.14 89.53,275.12 89.7,275.11 89.87,275.11 90.05,275.4 90.22,275.28 90.39,275.21 90.56,275.16 90.74,275.14 90.91,275.12 91.08,275.11 91.25,275.11 91.42,275.11 91.6,275.34 91.77,275.25 91.94,275.19 92.11,275.5 92.28,275.5 92.46,275.59 92.63,275.41 92.8,275.28 92.97,275.21 93.15,275.17 93.32,275.14 93.49,275.12 93.66,275.11 93.83,275.11 94.01,275.11 94.18,275.1 94.35,275.1 94.52,275.1 94.69,275.75 94.87,275.49 95.04,276.24 95.21,275.78 95.38,275.51 95.56,277.62 95.73,276.61 95.9,276.38 96.07,275.87 96.24,275.56 96.42,275.38 96.59,275.27 96.76,275.2 96.93,275.16 97.1,275.14 97.28,275.12 97.45,275.11 97.62,275.18 97.79,275.15 97.97,276.03 98.14,275.66 98.31,275.44 98.48,275.3 98.65,275.22 98.83,275.17 99,275.94 99.17,275.61 99.34,275.4 99.51,275.28 99.69,275.21 99.86,275.83 100.03,275.54 100.2,275.52 100.38,275.35 100.55,275.92 100.72,275.59 100.89,275.4 101.06,275.28 101.24,275.21 101.41,275.16 101.58,275.14 101.75,275.12 101.93,275.11 102.1,275.19 102.27,275.15 102.44,275.13 102.61,275.12 102.79,275.11 102.96,275.14 103.13,275.12 103.3,275.11 103.47,275.11 103.65,275.1 103.82,275.1 103.99,275.1 104.34,275.1 104.51,276.22 104.68,277.14 104.85,276.32 105.02,276.14 105.2,275.73 105.37,275.48 105.54,275.33 105.71,275.24 105.88,276.55 106.06,276.4 106.23,276.25 106.4,275.79 106.57,276.37 106.75,275.86 106.92,275.56 107.09,275.38 107.26,275.27 107.43,275.2 107.61,275.16 107.78,275.14 107.95,275.12 108.12,275.11 108.29,275.11 108.47,275.32 108.64,275.23 108.81,275.18 108.98,275.84 109.16,275.55 109.33,276.67 109.5,276.04 109.67,275.67 109.84,275.44 110.02,275.3 110.19,275.22 110.36,275.17 110.53,275.14 110.7,275.13 110.88,275.12 111.05,275.11 111.22,275.16 111.39,275.14 111.57,275.12 111.74,275.11 111.91,275.11 112.08,275.1 112.25,275.1 112.43,275.34 112.6,275.24 112.77,275.18 112.94,275.15 113.11,275.13 113.29,275.12 113.46,275.11 113.63,275.11 113.8,275.1 113.98,275.76 114.15,275.5 114.32,275.34 114.49,275.24 114.66,275.19 114.84,276.46 115.01,276.24 115.18,275.78 115.35,275.51 115.52,275.35 115.7,275.25 115.87,275.19 116.04,275.15 116.21,275.13 116.39,275.12 116.56,275.11 116.73,275.2 116.9,276.34 117.07,275.84 117.25,275.55 117.42,275.37 117.59,275.26 117.76,275.2 117.94,275.26 118.11,275.41 118.28,275.42 118.45,275.29 118.62,275.22 118.8,275.17 118.97,275.14 119.14,275.13 119.31,275.12 119.48,275.11 119.66,275.11 119.83,275.1 120,275.26 120.17,275.2 120.35,275.51 120.52,275.35 120.69,275.25 120.86,275.35 121.03,275.25 121.21,275.19 121.38,276.97 121.55,276.22 121.72,275.77 121.89,275.5 122.07,275.36 122.24,275.26 122.41,275.19 122.58,275.16 122.76,275.13 122.93,275.37 123.1,275.26 123.27,275.2 123.44,275.16 123.62,275.13 123.79,275.12 123.96,275.2 124.13,275.16 124.3,275.13 124.48,275.12 124.65,275.11 124.82,275.11 124.99,275.1 125.17,275.1 125.34,275.1 125.51,275.86 125.68,275.56 125.85,275.38 126.03,275.27 126.2,275.2 126.37,275.3 126.54,275.22 126.71,275.17 126.89,275.18 127.06,275.15 127.23,275.13 127.4,275.12 127.58,275.11 127.75,275.11 127.92,275.28 128.09,275.21 128.26,275.17 128.44,275.14 128.61,275.12 128.78,275.11 128.95,275.11 129.12,275.11 129.3,275.1 129.47,275.1 129.64,275.1 129.81,275.45 129.99,275.31 130.16,275.22 130.33,275.17 130.5,275.14 130.67,275.13 130.85,275.12 131.02,275.32 131.19,275.23 131.36,275.18 131.53,275.95 131.71,275.61 131.88,275.4 132.05,276.65 132.22,276.03 132.4,275.66 132.57,275.43 132.74,275.3 132.91,275.22 133.08,275.17 133.26,275.14 133.43,275.13 133.6,275.24 133.77,275.19 133.94,275.15 134.12,275.13 134.29,275.37 134.46,276.63 134.63,276.04 134.81,275.92 134.98,275.59 135.15,275.39 135.32,275.28 135.49,275.21 135.67,275.16 135.84,275.14 136.01,275.12 136.18,275.11 136.36,275.11 136.53,275.65 136.7,275.43 136.87,275.3 137.04,275.22 137.22,275.17 137.39,275.31 137.56,275.22 137.73,275.17 137.9,276.51 138.08,275.95 138.25,275.61 138.42,275.4 138.59,275.28 138.77,275.21 138.94,275.49 139.11,275.33 139.28,275.24 139.45,275.18 139.63,275.15 139.8,275.13 139.97,275.38 140.14,275.27 140.31,275.2 140.49,275.18 140.66,276.41 140.83,275.89 141,275.57 141.18,275.38 141.35,275.27 141.52,275.2 141.69,275.16 141.86,275.14 142.04,275.12 142.21,275.11 142.38,275.11 142.55,275.1 142.72,275.81 142.9,275.53 143.07,275.36 143.24,275.25 143.41,275.33 143.59,275.24 143.76,275.18 143.93,275.15 144.1,275.13 144.27,275.12 144.45,275.11 144.62,275.11 144.79,275.1 144.96,275.1 146.51,275.1 146.68,275.21 146.86,275.17 147.03,275.14 147.2,275.14 147.37,275.12 147.54,275.11 147.72,275.11 147.89,275.11 148.06,275.1 148.23,275.1 148.41,275.15 148.58,275.13 148.75,275.12 148.92,275.11 149.09,275.11 149.27,275.1 149.44,275.1 150.13,275.1 150.3,276.02 150.47,275.65 150.64,275.43 150.82,275.3 150.99,275.22 151.16,275.17 151.33,275.14 151.5,275.13 151.68,276.19 151.85,275.76 152.02,275.49 152.19,275.34 152.37,277.52 152.54,276.55 152.71,275.97 152.88,275.62 153.05,275.41 153.23,275.29 153.4,275.54 153.57,275.36 153.74,275.26 153.91,275.19 154.09,275.33 154.26,275.34 154.43,275.25 154.6,275.19 154.78,275.15 154.95,275.13 155.12,275.12 155.29,275.11 155.46,275.11 155.64,275.1 155.81,275.1 155.98,275.56 156.15,275.37 156.32,275.26 156.5,275.2 156.67,275.27 156.84,275.2 157.01,275.16 157.19,275.14 157.36,275.12 157.53,275.31 157.7,275.23 157.87,275.18 158.05,275.15 158.22,275.13 158.39,275.12 158.56,275.11 158.73,275.16 158.91,275.14 159.08,275.12 159.25,275.11 159.42,275.2 159.6,275.16 159.77,275.13 159.94,275.12 160.11,275.11 160.28,275.11 160.46,275.1 160.63,275.1 162.01,275.1 162.18,276.26 162.35,275.8 162.52,275.52 162.69,275.35 162.87,275.25 163.04,275.19 163.21,275.15 163.38,275.53 163.55,275.36 163.73,275.26 163.9,275.68 164.07,275.45 164.24,275.31 164.42,275.39 164.59,275.28 164.76,275.21 164.93,275.5 165.1,275.34 165.28,275.24 165.45,275.19 165.62,276.52 165.79,275.95 165.96,275.61 166.14,276.71 166.31,276.07 166.48,275.68 166.65,275.45 166.83,275.31 167,275.23 167.17,275.18 167.34,275.15 167.51,275.13 167.69,275.12 167.86,275.11 168.03,275.11 168.2,275.1 168.37,275.1 168.72,275.1 168.89,275.24 169.06,275.19 169.24,275.15 169.41,275.54 169.58,275.37 169.75,276.17 169.92,276.2 170.1,275.76 170.27,275.5 170.44,275.34 170.61,275.24 170.79,275.19 170.96,275.15 171.13,275.13 171.3,275.12 171.47,275.11 171.65,275.59 171.82,275.39 171.99,275.28 172.16,275.21 172.33,275.16 172.51,275.14 172.68,275.12 172.85,275.11 173.02,275.18 173.2,275.15 173.37,275.42 173.54,275.29 173.71,275.72 173.88,276.14 174.06,275.72 174.23,275.47 174.4,275.67 174.57,275.44 174.74,275.31 174.92,276.2 175.09,275.76 175.26,275.5 175.43,275.34 175.61,275.24 175.78,275.19 175.95,275.15 176.12,275.13 176.29,275.12 176.47,275.11 176.64,275.11 176.81,275.1 176.98,275.32 177.15,275.23 177.33,276.31 177.5,275.83 177.67,275.54 177.84,275.71 178.02,275.47 178.19,275.32 178.36,275.23 178.53,275.18 178.7,275.15 178.88,275.23 179.05,275.18 179.22,275.15 179.39,275.13 179.56,275.12 179.74,275.11 179.91,276.93 180.08,276.57 180.25,275.98 180.43,275.63 180.6,275.42 180.77,275.29 180.94,275.21 181.11,275.17 181.29,276.51 181.46,275.94 181.63,275.61 181.8,275.4 181.97,275.28 182.15,275.21 182.32,275.17 182.49,275.14 182.66,275.12 182.84,275.11 183.01,275.11 183.18,275.11 183.35,275.96 183.52,275.62 183.7,275.41 183.87,275.29 184.04,275.21 184.21,275.17 184.38,275.14 184.56,275.14 184.73,275.6 184.9,275.4 185.07,275.28 185.25,275.21 185.42,275.29 185.59,275.22 185.76,275.17 185.93,275.14 186.11,275.35 186.28,275.25 186.45,275.19 186.62,275.15 186.8,275.13 186.97,275.12 187.14,275.11 187.31,276.47 187.48,275.92 187.66,275.64 187.83,275.43 188,275.3 188.17,275.22 188.34,275.17 188.52,275.14 188.69,275.64 188.86,275.43 189.03,275.3 189.21,275.22 189.38,275.17 189.55,275.14 189.72,275.13 189.89,275.12 190.07,275.11 190.24,275.49 190.41,275.33 190.58,275.24 190.75,275.94 190.93,276 191.1,275.64 191.27,275.54 191.44,275.36 191.62,275.26 191.79,275.19 191.96,275.16 192.13,275.13 192.3,275.12 192.48,275.11 192.65,276.21 192.82,275.77 192.99,275.5 193.16,276.27 193.34,275.8 193.51,275.52 193.68,275.35 193.85,275.25 194.03,275.19 194.2,275.29 194.37,275.42 194.54,275.29 194.71,275.21 194.89,275.17 195.06,275.14 195.23,275.12 195.4,275.11 195.57,275.11 195.75,275.11 195.92,275.1 196.09,275.1 196.78,275.1 196.95,275.25 197.12,275.19 197.3,275.15 197.47,275.13 197.64,275.12 197.81,275.11 197.98,275.11 198.16,275.1 198.33,275.1 200.91,275.1 201.08,276.31 201.26,275.84 201.43,276.87 201.6,276.16 201.77,275.75 201.94,276.08 202.12,275.69 202.29,275.45 202.46,275.31 202.63,275.67 202.8,275.44 202.98,275.31 203.15,275.22 203.32,275.17 203.49,276.16 203.67,275.73 203.84,275.48 204.01,275.44 204.18,275.32 204.35,275.23 204.53,275.18 204.7,275.15 204.87,275.13 205.04,275.12 205.22,275.11 205.39,275.16 205.56,275.13 205.73,277.85 205.9,276.75 206.08,276.09 206.25,275.84 206.42,275.55 206.59,275.37 206.76,275.26 206.94,275.2 207.11,275.16 207.28,275.13 207.45,275.12 207.63,275.11 207.8,275.37 207.97,275.26 208.14,275.2 208.31,275.16 208.49,275.14 208.66,275.12 208.83,275.11 209,275.11 209.17,275.96 209.35,275.62 209.52,275.52 209.69,275.35 209.86,275.25 210.04,275.53 210.21,275.36 210.38,275.25 210.55,275.19 210.72,275.16 210.9,275.13 211.07,275.12 211.24,275.11 211.41,275.11 211.58,275.1 211.76,275.1 212.1,275.1 212.27,275.61 212.45,276.18 212.62,275.75 212.79,275.49 212.96,275.33 213.13,275.24 213.31,275.18 213.48,275.15 213.65,275.13 213.82,276.22 213.99,275.89 214.17,275.57 214.34,275.38 214.51,275.27 214.68,275.2 214.86,275.16 215.03,275.14 215.2,275.12 215.37,275.11 215.54,275.11 215.72,275.1 215.89,275.1 216.06,275.1 216.23,275.1 216.4,276.03 216.58,275.66 216.75,275.43 216.92,275.3 217.09,275.22 217.27,275.17 217.44,275.14 217.61,275.44 217.78,275.3 217.95,275.22 218.13,275.17 218.3,275.14 218.47,275.13 218.64,275.12 218.81,275.19 218.99,275.16 219.16,275.13 219.33,275.12 219.5,275.11 219.68,275.11 219.85,275.1 220.02,275.1 220.19,275.1 220.36,276.47 220.54,276.16 220.71,275.74 220.88,275.48 221.05,275.33 221.23,275.24 221.4,275.18 221.57,275.15 221.74,275.25 221.91,275.19 222.09,275.41 222.26,275.28 222.43,275.21 222.6,275.17 222.77,275.14 222.95,275.12 223.12,275.58 223.29,275.39 223.46,275.27 223.64,275.2 223.81,275.16 223.98,275.14 224.15,275.12 224.32,275.11 224.5,275.11 224.67,275.1 224.84,275.1 225.01,275.1 226.22,275.1 226.39,275.37 226.56,275.26 226.73,275.2 226.91,275.16 227.08,275.14 227.25,275.12 227.42,275.11 227.59,275.11 227.77,275.1 227.94,275.1 229.14,275.1 229.32,275.49 229.49,275.34 229.66,275.24 229.83,275.18 230,275.15 230.18,275.56 230.35,275.38 230.52,275.27 230.69,275.2 230.87,275.16 231.04,275.14 231.21,275.12 231.38,275.11 231.55,275.11 231.73,275.1 231.9,275.1 232.24,275.1 232.41,276.47 232.59,275.92 232.76,275.75 232.93,275.49 233.1,275.61 233.28,275.4 233.45,275.28 233.62,275.21 233.79,275.17 233.96,275.14 234.14,275.12 234.31,275.11 234.48,275.11 234.65,275.11 234.82,275.1 235,275.1 235.17,275.1 235.34,275.85 235.51,275.55 235.69,275.37 235.86,275.26 236.03,275.2 236.2,275.16 236.37,275.14 236.55,275.12 236.72,275.11 236.89,275.11 237.06,275.1 237.23,275.1 237.58,275.1 237.75,276 237.92,275.64 238.1,275.42 238.27,275.29 238.44,275.22 238.61,275.17 238.78,275.14 238.96,275.13 239.13,275.76 239.3,275.49 239.47,275.34 239.65,275.24 239.82,275.18 239.99,275.15 240.16,275.13 240.33,275.12 240.51,275.11 240.68,275.11 240.85,275.1 241.02,275.98 241.19,275.63 241.37,275.42 241.54,276.18 241.71,275.75 241.88,275.5 242.06,275.34 242.23,275.24 242.4,275.19 242.57,275.23 242.74,275.18 242.92,275.15 243.09,275.13 243.26,276.29 243.43,275.81 243.6,277.35 243.78,276.45 243.95,275.91 244.12,275.59 244.29,275.39 244.47,275.27 244.64,275.2 244.81,275.16 244.98,275.14 245.15,275.12 245.33,275.11 245.5,275.11 245.67,275.1 245.84,275.1 246.01,275.1 246.36,275.1 246.53,275.44 246.7,275.62 246.88,275.75 247.05,275.49 247.22,275.33 247.39,275.24 247.56,276.1 247.74,275.7 247.91,275.46 248.08,275.32 248.25,275.23 248.42,275.18 248.6,275.15 248.77,275.13 248.94,275.62 249.11,275.41 249.29,275.76 249.46,275.5 249.63,275.34 249.8,275.24 249.97,275.19 250.15,275.15 250.32,275.13 250.49,275.12 250.66,275.75 250.83,275.49 251.01,275.33 251.18,275.24 251.35,275.18 251.52,275.15 251.7,275.13 251.87,275.12 252.04,275.11 252.21,275.11 252.38,275.1 252.56,275.1 255.31,275.1 255.48,275.74 255.65,275.49 255.83,275.33 256,275.42 256.17,275.4 256.34,275.28 256.52,275.21 256.69,275.16 256.86,275.14 257.03,275.12 257.2,275.11 257.38,275.11 257.55,275.1 257.72,275.1 257.89,275.1 258.75,275.1 258.93,275.2 259.1,275.91 259.27,275.58 259.44,275.39 259.61,275.27 259.79,275.2 259.96,275.16 260.13,275.14 260.3,275.12 260.48,275.11 260.65,275.11 260.82,275.1 260.99,275.1 261.16,275.1 261.34,275.1 261.51,275.52 261.68,275.42 261.85,275.29 262.02,275.21 262.2,275.17 262.37,275.14 262.54,275.37 262.71,275.26 262.89,275.2 263.06,275.16 263.23,275.13 263.4,275.12 263.57,275.63 263.75,275.42 263.92,275.3 264.09,275.8 264.26,276.88 264.43,277.19 264.61,276.36 264.78,275.86 264.95,275.55 265.12,275.37 265.3,275.26 265.47,275.94 265.64,275.61 265.81,275.4 265.98,275.28 266.16,275.71 266.33,275.46 266.5,275.32 266.67,275.23 266.84,275.18 267.02,275.15 267.19,275.13 267.36,275.12 267.53,275.11 267.71,275.11 267.88,275.29 268.05,275.22 268.22,275.17 268.39,275.14 268.57,275.12 268.74,275.34 268.91,275.25 269.08,275.19 269.25,275.15 269.43,275.93 269.6,275.6 269.77,275.4 269.94,275.28 270.12,275.21 270.29,275.16 270.46,275.14 270.63,275.12 270.8,275.11 270.98,275.11 271.15,275.11 271.32,276.47 271.49,275.92 271.66,275.59 271.84,275.4 272.01,275.28 272.18,275.21 272.35,275.16 272.53,275.14 272.7,275.12 272.87,276.93 273.04,276.2 273.21,275.76 273.39,275.5 273.56,275.34 273.73,275.24 273.9,275.19 274.08,275.15 274.25,275.28 274.42,275.21 274.59,275.17 274.76,275.14 274.94,275.12 275.11,276.01 275.28,275.65 275.45,275.43 275.62,275.3 275.8,275.22 275.97,275.17 276.14,275.14 276.31,275.13 276.49,275.12 276.66,275.11 276.83,275.51 277,275.35 277.17,275.25 277.35,275.19 277.52,275.15 277.69,275.13 277.86,275.12 278.03,275.11 278.21,275.11 278.38,275.1 278.55,275.1 279.07,275.1 279.24,275.92 279.41,275.59 279.58,275.4 279.76,275.28 279.93,275.21 280.1,275.16 280.27,275.14 280.44,275.12 280.62,275.11 280.79,275.11 280.96,275.1 281.13,275.1 281.31,275.1 281.99,275.1 282.17,275.12 282.34,275.11 282.51,275.11 282.68,275.61 282.85,275.4 283.03,275.74 283.2,275.48 283.37,275.33 283.54,275.25 283.72,275.19 283.89,275.16 284.06,275.13 284.23,275.12 284.4,275.11 284.58,275.11 284.75,275.1 284.92,275.1 285.61,275.1 285.78,275.21 285.95,275.17 286.13,275.17 286.3,275.14 286.47,275.12 286.64,275.11 286.81,275.11 286.99,275.11 287.16,275.56 287.33,275.38 287.5,276.63 287.67,276.02 287.85,275.65 288.02,275.43 288.19,275.3 288.36,275.22 288.54,275.17 288.71,275.14 288.88,276.49 289.05,275.93 289.22,275.6 289.4,275.55 289.57,275.37 289.74,275.26 289.91,275.2 290.09,275.16 290.26,275.91 290.43,275.58 290.6,275.39 290.77,275.27 290.95,275.28 291.12,275.21 291.29,275.17 291.46,275.14 291.63,275.12 291.81,275.11 291.98,275.11 292.15,275.3 292.32,275.22 292.5,275.5 292.67,275.34 292.84,275.24 293.01,275.75 293.18,276.12 293.36,275.71 293.53,276.78 293.7,276.11 293.87,275.71 294.04,275.46 294.22,275.32 294.39,275.53 294.56,276.68 294.73,276.05 294.91,275.67 295.08,275.44 295.25,275.3 295.42,275.22 295.59,275.17 295.77,275.14 295.94,275.25 296.11,275.82 296.28,275.53 296.45,276.38 296.63,275.87 296.8,275.56 296.97,275.54 297.14,275.36 297.32,275.26 297.49,275.19 297.66,275.16 297.83,275.13 298,275.12 298.18,276.48 298.35,277.06 298.52,276.27 298.69,275.8 298.86,275.52 299.04,275.35 299.21,275.25 299.38,275.19 299.55,275.15 299.73,275.13 299.9,275.12 300.07,275.11 300.24,275.28 300.41,275.21 300.59,275.81 300.76,275.53 300.93,275.36 301.1,276.08 301.27,275.69 301.45,275.45 301.62,275.31 301.79,275.23 301.96,275.18 302.14,275.15 302.31,275.13 302.48,275.12 302.65,275.11 302.82,275.21 303,275.16 303.17,275.14 303.34,275.12 303.51,275.16 303.68,275.14 303.86,275.12 304.03,275.11 304.2,275.11 304.37,275.1 304.55,275.1 305.06,275.1 305.23,275.76 305.41,275.5 305.58,275.34 305.75,276.08 305.92,275.69 306.09,275.45 306.27,275.31 306.44,275.23 306.61,276.38 306.78,275.87 306.96,275.56 307.13,275.38 307.3,277.09 307.47,276.29 307.64,275.82 307.82,275.53 307.99,275.36 308.16,275.25 308.33,275.56 308.51,275.38 308.68,275.27 308.85,275.83 309.02,275.54 309.19,275.36 309.37,275.26 309.54,275.19 309.71,275.16 309.88,275.13 310.05,276.15 310.23,275.73 310.4,275.48 310.57,275.33 310.74,275.24 310.92,275.18 311.09,276.51 311.26,275.95 311.43,275.61 311.6,275.55 311.78,275.37 311.95,275.31 312.12,275.23 312.29,275.18 312.46,275.6 312.64,275.4 312.81,275.28 312.98,275.21 313.15,276.19 313.33,275.75 313.5,275.56 313.67,275.37 313.84,275.26 314.01,275.2 314.19,275.42 314.36,275.74 314.53,275.48 314.7,275.76 314.87,275.49 315.05,275.34 315.22,275.24 315.39,275.19 315.56,275.15 315.74,275.13 315.91,275.12 316.08,275.11 316.25,275.11 316.42,275.1 316.6,275.1 318.15,275.1 318.32,275.46 318.49,275.32 318.66,275.23 318.83,275.18 319.01,275.15 319.18,275.13 319.35,275.12 319.52,275.11 319.69,275.39 319.87,275.27 320.04,275.28 320.21,275.21 320.38,275.16 320.56,275.14 320.73,275.12 320.9,275.11 321.07,275.11 321.24,275.11 321.42,275.62 321.59,275.41 321.76,275.29 321.93,275.21 322.1,275.17 322.28,275.14 322.45,275.12 322.62,275.11 322.79,275.11 322.97,275.11 323.14,275.1 323.31,275.1 323.65,275.1 323.83,275.55 324,275.37 324.17,275.26 324.34,275.2 324.51,275.16 324.69,275.14 324.86,275.19 325.03,275.33 325.2,275.24 325.38,275.18 325.55,275.15 325.72,275.53 325.89,275.36 326.06,275.25 326.24,275.19 326.41,275.16 326.58,275.13 326.75,275.12 326.93,275.11 327.1,275.11 327.27,275.1 327.44,275.1 328.47,275.1 328.65,275.32 328.82,275.23 328.99,275.18 329.16,275.15 329.34,275.13 329.51,275.12 329.68,275.11 329.85,275.11 330.02,275.1 330.2,275.14 330.37,275.12 330.54,275.11 330.71,275.35 330.88,275.25 331.06,275.19 331.23,275.28 331.4,275.21 331.57,275.17 331.75,275.35 331.92,275.25 332.09,275.19 332.26,275.15 332.43,275.13 332.61,275.12 332.78,275.11 332.95,275.11 333.12,275.1 333.29,275.1 333.98,275.1 334.16,276.12 334.33,276.44 334.5,275.9 334.67,275.58 334.84,275.39 335.02,275.27 335.19,275.2 335.36,275.16 335.53,275.14 335.7,275.12 335.88,275.11 336.05,275.11 336.22,275.1 336.39,275.1 336.57,275.1 338.29,275.1 338.46,275.53 338.63,275.36 338.8,276.52 338.98,275.95 339.15,275.61 339.32,275.41 339.49,275.28 339.66,275.21 339.84,275.17 340.01,276.73 340.18,276.1 340.35,275.7 340.52,275.46 340.7,275.32 340.87,275.23 341.04,275.18 341.21,275.15 341.39,275.13 341.56,275.12 341.73,275.11 341.9,275.11 342.07,275.1 342.25,275.1 342.94,275.1 343.11,275.34 343.28,275.24 343.45,275.18 343.62,275.15 343.8,275.13 343.97,275.12 344.14,275.11 344.31,275.11 344.48,275.1 344.66,275.1 346.03,275.1 346.21,276.23 346.38,275.78 346.55,275.51 346.72,275.34 346.89,275.25 347.07,275.19 347.24,275.32 347.41,275.23 347.58,275.18 347.76,275.15 347.93,275.13 348.1,275.12 348.27,275.11 348.44,275.11 348.62,275.1 348.79,275.1 348.96,275.37 349.13,275.26 349.3,275.2 349.48,275.16 349.65,275.32 349.82,275.23 349.99,275.18 350.17,275.15 350.34,275.13 350.51,275.12 350.68,275.11 350.85,275.11 351.03,275.1 351.2,275.1 351.71,275.1 351.89,275.19 352.06,275.15 352.23,275.18 352.4,275.15 352.58,275.13 352.75,275.12 352.92,275.11 353.09,275.11 353.26,275.11 353.44,275.11 353.61,275.1 353.78,275.1 354.3,275.1 354.47,276.27 354.64,275.8 354.81,275.52 354.99,275.35 355.16,275.25 355.33,276.3 355.5,275.82 355.67,275.53 355.85,275.36 356.02,275.26 356.19,275.19 356.36,276.49 356.53,275.94 356.71,275.6 356.88,275.4 357.05,275.28 357.22,275.21 357.4,275.17 357.57,275.14 357.74,275.12 357.91,275.11 358.08,275.11 358.26,275.11 358.43,275.1 358.6,275.1 358.94,275.1" fill="none" stroke="#0072BD" stroke-width="1.0" stroke-opacity="1.0" stroke-linejoin="round"/>
<polyline points="31.86,300.48 37.02,275.1 358.94,275.1" fill="none" stroke="#333333" stroke-width="0.8" stroke-opacity="1.0" stroke-linejoin="round" stroke-dasharray="2.4 2.4"/>
<circle cx="31.86" cy="300.48" r="1.75" fill="#333333"/>
<circle cx="37.02" cy="275.1" r="1.75" fill="#333333"/>
<circle cx="42.19" cy="275.1" r="1.75" fill="#333333"/>
<circle cx="47.35" cy="275.1" r="1.75" fill="#333333"/>
<circle cx="52.52" cy="275.1" r="1.75" fill="#333333"/>
<circle cx="57.68" cy="275.1" r="1.75" fill="#333333"/>
<circle cx="62.85" cy="275.1" r="1.75" fill="#333333"/>
<circle cx="68.01" cy="275.1" r="1.75" fill="#333333"/>
<circle cx="73.18" cy="275.1" r="1.75" fill="#333333"/>
<circle cx="78.34" cy="275.1" r="1.75" fill="#333333"/>
<circle cx="83.5" cy="275.1" r="1.75" fill="#333333"/>
<circle cx="88.67" cy="275.1" r="1.75" fill="#333333"/>
<circle cx="93.83" cy="275.1" r="1.75" fill="#333333"/>
<circle cx="99" cy="275.1" r="1.75" fill="#333333"/>
<circle cx="104.16" cy="275.1" r="1.75" fill="#333333"/>
<circle cx="109.33" cy="275.1" r="1.75" fill="#333333"/>
<circle cx="114.49" cy="275.1" r="1.75" fill="#333333"/>
<circle cx="119.66" cy="275.1" r="1.75" fill="#333333"/>
<circle cx="124.82" cy="275.1" r="1.75" fill="#333333"/>
<circle cx="129.99" cy="275.1" r="1.75" fill="#333333"/>
<circle cx="135.15" cy="275.1" r="1.75" fill="#333333"/>
<circle cx="140.31" cy="275.1" r="1.75" fill="#333333"/>
<circle cx="145.48" cy="275.1" r="1.75" fill="#333333"/>
<circle cx="150.64" cy="275.1" r="1.75" fill="#333333"/>
<circle cx="155.81" cy="275.1" r="1.75" fill="#333333"/>
<circle cx="160.97" cy="275.1" r="1.75" fill="#333333"/>
<circle cx="166.14" cy="275.1" r="1.75" fill="#333333"/>
<circle cx="171.3" cy="275.1" r="1.75" fill="#333333"/>
<circle cx="176.47" cy="275.1" r="1.75" fill="#333333"/>
<circle cx="181.63" cy="275.1" r="1.75" fill="#333333"/>
<circle cx="186.8" cy="275.1" r="1.75" fill="#333333"/>
<circle cx="191.96" cy="275.1" r="1.75" fill="#333333"/>
<circle cx="197.12" cy="275.1" r="1.75" fill="#333333"/>
<circle cx="202.29" cy="275.1" r="1.75" fill="#333333"/>
<circle cx="207.45" cy="275.1" r="1.75" fill="#333333"/>
<circle cx="212.62" cy="275.1" r="1.75" fill="#333333"/>
<circle cx="217.78" cy="275.1" r="1.75" fill="#333333"/>
<circle cx="222.95" cy="275.1" r="1.75" fill="#333333"/>
<circle cx="228.11" cy="275.1" r="1.75" fill="#333333"/>
<circle cx="233.28" cy="275.1" r="1.75" fill="#333333"/>
<circle cx="238.44" cy="275.1" r="1.75" fill="#333333"/>
<circle cx="243.6" cy="275.1" r="1.75" fill="#333333"/>
<circle cx="248.77" cy="275.1" r="1.75" fill="#333333"/>
<circle cx="253.93" cy="275.1" r="1.75" fill="#333333"/>
<circle cx="259.1" cy="275.1" r="1.75" fill="#333333"/>
<circle cx="264.26" cy="275.1" r="1.75" fill="#333333"/>
<circle cx="269.43" cy="275.1" r="1.75" fill="#333333"/>
<circle cx="274.59" cy="275.1" r="1.75" fill="#333333"/>
<circle cx="279.76" cy="275.1" r="1.75" fill="#333333"/>
<circle cx="284.92" cy="275.1" r="1.75" fill="#333333"/>
<circle cx="290.09" cy="275.1" r="1.75" fill="#333333"/>
<circle cx="295.25" cy="275.1" r="1.75" fill="#333333"/>
<circle cx="300.41" cy="275.1" r="1.75" fill="#333333"/>
<circle cx="305.58" cy="275.1" r="1.75" fill="#333333"/>
<circle cx="310.74" cy="275.1" r="1.75" fill="#333333"/>
<circle cx="315.91" cy="275.1" r="1.75" fill="#333333"/>
<circle cx="321.07" cy="275.1" r="1.75" fill="#333333"/>
<circle cx="326.24" cy="275.1" r="1.75" fill="#333333"/>
<circle cx="331.4" cy="275.1" r="1.75" fill="#333333"/>
<circle cx="336.57" cy="275.1" r="1.75" fill="#333333"/>
<circle cx="341.73" cy="275.1" r="1.75" fill="#333333"/>
<circle cx="346.89" cy="275.1" r="1.75" fill="#333333"/>
<circle cx="352.06" cy="275.1" r="1.75" fill="#333333"/>
<circle cx="357.22" cy="275.1" r="1.75" fill="#333333"/>
<circle cx="358.94" cy="275.1" r="2.3" fill="#8a8a8a" fill-opacity="0.55" stroke="#555" stroke-width="0.5"/>
<circle cx="357.22" cy="275.1" r="1.6" fill="#333333"/>
<text x="362.84" y="277.42" font-size="5.6" fill="#444" textLength="11.6" lengthAdjust="spacingAndGlyphs" stroke="#444" stroke-width="0.15">Final</text>
<rect x="232.2" y="288.6" width="125.1" height="55.3" fill="#fff"/>
<text x="235.5" y="297.21" font-size="6.7" fill="#111" font-weight="bold">Accuracy</text>
<line x1="249.5" x2="280.5" y1="307.5" y2="307.5" stroke="#0072BD" stroke-width="1.5"/>
<text x="284" y="310" font-size="6.95" fill="#222" stroke="#222" stroke-width="0.15">Training (smoothed)</text>
<line x1="249.5" x2="280.5" y1="320.4" y2="320.4" stroke="#8DC1E6" stroke-width="0.9"/>
<circle cx="265" cy="320.4" r="2.6" fill="#8DC1E6"/>
<text x="284" y="322.9" font-size="6.95" fill="#222" stroke="#222" stroke-width="0.15">Training</text>
<line x1="249.5" x2="280.5" y1="332.6" y2="332.6" stroke="#333333" stroke-width="0.9" stroke-dasharray="3.6 3.5"/>
<circle cx="265" cy="332.6" r="2.7" fill="#333333"/>
<text x="284" y="335.1" font-size="6.95" fill="#222" stroke="#222" stroke-width="0.15">Validation</text>
<text transform="translate(15.25,340.5) rotate(-90)" font-size="6.8" font-weight="bold" text-anchor="middle" fill="#111" stroke="#111" stroke-width="0.25" textLength="39.8" lengthAdjust="spacingAndGlyphs">Accuracy (%)</text>
<text x="206.6" y="403.66" font-size="7.4" fill="#111" text-anchor="middle" font-weight="bold" textLength="26.6" lengthAdjust="spacingAndGlyphs" stroke="#111" stroke-width="0.25">Iteration</text>
<rect x="37.32" y="408.3" width="6.52" height="71.1" fill="#E5E5E5"/>
<rect x="50.37" y="408.3" width="6.52" height="71.1" fill="#E5E5E5"/>
<rect x="63.42" y="408.3" width="6.52" height="71.1" fill="#E5E5E5"/>
<rect x="76.47" y="408.3" width="6.52" height="71.1" fill="#E5E5E5"/>
<rect x="89.52" y="408.3" width="6.52" height="71.1" fill="#E5E5E5"/>
<rect x="102.57" y="408.3" width="6.52" height="71.1" fill="#E5E5E5"/>
<rect x="115.62" y="408.3" width="6.52" height="71.1" fill="#E5E5E5"/>
<rect x="128.67" y="408.3" width="6.52" height="71.1" fill="#E5E5E5"/>
<rect x="141.72" y="408.3" width="6.52" height="71.1" fill="#E5E5E5"/>
<rect x="154.77" y="408.3" width="6.52" height="71.1" fill="#E5E5E5"/>
<rect x="167.82" y="408.3" width="6.52" height="71.1" fill="#E5E5E5"/>
<rect x="180.87" y="408.3" width="6.52" height="71.1" fill="#E5E5E5"/>
<rect x="193.91" y="408.3" width="6.52" height="71.1" fill="#E5E5E5"/>
<rect x="206.96" y="408.3" width="6.52" height="71.1" fill="#E5E5E5"/>
<rect x="220.01" y="408.3" width="6.52" height="71.1" fill="#E5E5E5"/>
<rect x="233.06" y="408.3" width="6.52" height="71.1" fill="#E5E5E5"/>
<rect x="246.11" y="408.3" width="6.52" height="71.1" fill="#E5E5E5"/>
<rect x="259.16" y="408.3" width="6.52" height="71.1" fill="#E5E5E5"/>
<rect x="272.21" y="408.3" width="6.52" height="71.1" fill="#E5E5E5"/>
<rect x="285.26" y="408.3" width="6.52" height="71.1" fill="#E5E5E5"/>
<rect x="298.31" y="408.3" width="6.52" height="71.1" fill="#E5E5E5"/>
<rect x="311.36" y="408.3" width="6.52" height="71.1" fill="#E5E5E5"/>
<rect x="324.41" y="408.3" width="6.52" height="71.1" fill="#E5E5E5"/>
<rect x="337.46" y="408.3" width="6.52" height="71.1" fill="#E5E5E5"/>
<rect x="350.51" y="408.3" width="6.52" height="71.1" fill="#E5E5E5"/>
<line x1="30.5" x2="374.7" y1="466.9" y2="466.9" stroke="#000" stroke-opacity="0.07" stroke-width="0.6"/>
<line x1="30.5" x2="374.7" y1="454.4" y2="454.4" stroke="#000" stroke-opacity="0.07" stroke-width="0.6"/>
<line x1="30.5" x2="374.7" y1="441.9" y2="441.9" stroke="#000" stroke-opacity="0.07" stroke-width="0.6"/>
<line x1="30.5" x2="374.7" y1="429.4" y2="429.4" stroke="#000" stroke-opacity="0.07" stroke-width="0.6"/>
<line x1="30.5" x2="374.7" y1="416.9" y2="416.9" stroke="#000" stroke-opacity="0.07" stroke-width="0.6"/>
<line x1="30.5" x2="30.5" y1="408.3" y2="479.4" stroke="#A8A8A8" stroke-width="0.8"/>
<line x1="30.5" x2="374.7" y1="479.4" y2="479.4" stroke="#A8A8A8" stroke-width="0.8"/>
<line x1="30.5" x2="30.5" y1="479.4" y2="476.6" stroke="#A8A8A8" stroke-width="0.7"/>
<text x="30.5" y="485.91" font-size="5.3" fill="#333333" text-anchor="middle" stroke="#333333" stroke-width="0.15">0</text>
<line x1="64.92" x2="64.92" y1="479.4" y2="476.6" stroke="#A8A8A8" stroke-width="0.7"/>
<text x="64.92" y="485.91" font-size="5.3" fill="#333333" text-anchor="middle" stroke="#333333" stroke-width="0.15">200</text>
<line x1="99.34" x2="99.34" y1="479.4" y2="476.6" stroke="#A8A8A8" stroke-width="0.7"/>
<text x="99.34" y="485.91" font-size="5.3" fill="#333333" text-anchor="middle" stroke="#333333" stroke-width="0.15">400</text>
<line x1="133.76" x2="133.76" y1="479.4" y2="476.6" stroke="#A8A8A8" stroke-width="0.7"/>
<text x="133.76" y="485.91" font-size="5.3" fill="#333333" text-anchor="middle" stroke="#333333" stroke-width="0.15">600</text>
<line x1="168.18" x2="168.18" y1="479.4" y2="476.6" stroke="#A8A8A8" stroke-width="0.7"/>
<text x="168.18" y="485.91" font-size="5.3" fill="#333333" text-anchor="middle" stroke="#333333" stroke-width="0.15">800</text>
<line x1="202.6" x2="202.6" y1="479.4" y2="476.6" stroke="#A8A8A8" stroke-width="0.7"/>
<text x="202.6" y="485.91" font-size="5.3" fill="#333333" text-anchor="middle" stroke="#333333" stroke-width="0.15">1000</text>
<line x1="237.02" x2="237.02" y1="479.4" y2="476.6" stroke="#A8A8A8" stroke-width="0.7"/>
<text x="237.02" y="485.91" font-size="5.3" fill="#333333" text-anchor="middle" stroke="#333333" stroke-width="0.15">1200</text>
<line x1="271.44" x2="271.44" y1="479.4" y2="476.6" stroke="#A8A8A8" stroke-width="0.7"/>
<text x="271.44" y="485.91" font-size="5.3" fill="#333333" text-anchor="middle" stroke="#333333" stroke-width="0.15">1400</text>
<line x1="305.86" x2="305.86" y1="479.4" y2="476.6" stroke="#A8A8A8" stroke-width="0.7"/>
<text x="305.86" y="485.91" font-size="5.3" fill="#333333" text-anchor="middle" stroke="#333333" stroke-width="0.15">1600</text>
<line x1="340.28" x2="340.28" y1="479.4" y2="476.6" stroke="#A8A8A8" stroke-width="0.7"/>
<text x="340.28" y="485.91" font-size="5.3" fill="#333333" text-anchor="middle" stroke="#333333" stroke-width="0.15">1800</text>
<line x1="374.7" x2="374.7" y1="479.4" y2="476.6" stroke="#A8A8A8" stroke-width="0.7"/>
<text x="374.7" y="485.91" font-size="5.3" fill="#333333" text-anchor="middle" stroke="#333333" stroke-width="0.15">2000</text>
<line x1="30.5" x2="33.3" y1="479.4" y2="479.4" stroke="#A8A8A8" stroke-width="0.7"/>
<text x="27.9" y="481.81" font-size="5.3" fill="#333333" text-anchor="end" stroke="#333333" stroke-width="0.15">0</text>
<line x1="30.5" x2="33.3" y1="466.9" y2="466.9" stroke="#A8A8A8" stroke-width="0.7"/>
<text x="27.9" y="469.31" font-size="5.3" fill="#333333" text-anchor="end" stroke="#333333" stroke-width="0.15">0.5</text>
<line x1="30.5" x2="33.3" y1="454.4" y2="454.4" stroke="#A8A8A8" stroke-width="0.7"/>
<text x="27.9" y="456.81" font-size="5.3" fill="#333333" text-anchor="end" stroke="#333333" stroke-width="0.15">1</text>
<line x1="30.5" x2="33.3" y1="441.9" y2="441.9" stroke="#A8A8A8" stroke-width="0.7"/>
<text x="27.9" y="444.31" font-size="5.3" fill="#333333" text-anchor="end" stroke="#333333" stroke-width="0.15">1.5</text>
<line x1="30.5" x2="33.3" y1="429.4" y2="429.4" stroke="#A8A8A8" stroke-width="0.7"/>
<text x="27.9" y="431.81" font-size="5.3" fill="#333333" text-anchor="end" stroke="#333333" stroke-width="0.15">2</text>
<line x1="30.5" x2="33.3" y1="416.9" y2="416.9" stroke="#A8A8A8" stroke-width="0.7"/>
<text x="27.9" y="419.31" font-size="5.3" fill="#333333" text-anchor="end" stroke="#333333" stroke-width="0.15">2.5</text>
<text x="93.78" y="476.7" font-size="6.4" fill="#555" text-anchor="middle" stroke="#555" stroke-width="0.15">10</text>
<text x="159.03" y="476.7" font-size="6.4" fill="#555" text-anchor="middle" stroke="#555" stroke-width="0.15">20</text>
<text x="224.28" y="476.7" font-size="6.4" fill="#555" text-anchor="middle" stroke="#555" stroke-width="0.15">30</text>
<text x="289.52" y="476.7" font-size="6.4" fill="#555" text-anchor="middle" stroke="#555" stroke-width="0.15">40</text>
<text x="354.77" y="476.7" font-size="6.4" fill="#555" text-anchor="middle" stroke="#555" stroke-width="0.15">50</text>
<polyline points="30.8,420.52 30.97,409.4 31.14,452.88 31.32,461.58 31.49,467.41 31.66,471.32 31.83,473.95 32,475.7 32.17,476.88 32.35,477.67 32.52,475.76 32.69,477.99 32.86,478.79 33.03,478.95 33.2,479.06 33.38,479.13 33.55,479.18 33.72,479.21 33.89,475.68 34.06,478.71 34.23,478.63 34.41,479.26 34.75,479.27 34.92,478.67 35.09,479.27 35.26,477.34 35.44,479.27 36.64,479.27 36.81,479.14 36.98,479.27 37.15,479.27 37.32,473.44 37.5,479.27 37.67,463.9 37.84,479.27 38.35,479.27 38.53,476.38 38.7,476.93 38.87,479.27 39.38,479.27 39.56,478.95 39.73,479.27 39.9,479.27 40.07,474.6 40.24,479.27 40.59,479.27 40.76,465.65 40.93,478.43 41.1,479.27 41.79,479.27 41.96,465.65 42.13,477.1 42.3,479.27 42.82,479.27 42.99,476.38 43.16,479.27 43.33,478.13 43.51,479.27 44.36,479.27 44.54,479.1 44.71,477.8 44.88,479.27 45.57,479.27 45.74,479.24 45.91,478.3 46.08,479.27 46.6,479.27 46.77,475.66 46.94,479.27 47.11,479.27 47.28,472.56 47.45,479.27 47.63,479.27 47.8,463.15 47.97,472.27 48.14,479.27 48.31,477.42 48.49,479.27 48.66,479.27 48.83,479.01 49,479.27 49.17,479.27 49.34,478.12 49.52,479.27 50.37,479.27 50.55,478.09 50.72,476.69 50.89,479.27 51.06,479.27 51.23,478.37 51.4,479.27 51.58,472.4 51.75,479.27 52.95,479.27 53.12,477.38 53.29,479.27 54.32,479.27 54.49,464.4 54.67,479.27 56.04,479.27 56.21,478.35 56.38,479.27 59.13,479.27 59.3,476.63 59.47,479.27 59.65,479.27 59.82,475.74 59.99,479.27 60.16,458.15 60.33,479.27 63.94,479.27 64.11,477.39 64.28,479.27 64.45,469.4 64.62,479.27 64.97,479.27 65.14,477.41 65.31,479.27 65.48,479.27 65.66,470.65 65.83,474.23 66,479.27 67.89,479.27 68.06,476.72 68.23,479.27 68.4,478.69 68.57,479.27 68.92,479.27 69.09,478.77 69.26,479.27 69.43,476.51 69.6,479.17 69.78,479.27 71.66,479.27 71.84,473.15 72.01,479.27 72.18,476.4 72.35,474.91 72.52,479.27 75.1,479.27 75.27,475.64 75.44,479.27 76.99,479.27 77.16,478.27 77.33,478.35 77.5,479.27 78.02,479.27 78.19,476.94 78.36,478.87 78.53,479.27 78.7,472.6 78.88,479.27 79.22,479.27 79.39,471.77 79.56,477.44 79.73,479.27 80.59,479.27 80.76,478.74 80.94,479.27 81.79,479.27 81.97,473.9 82.14,479.27 82.48,479.27 82.65,478.75 82.83,479.27 87.29,479.27 87.46,479 87.63,479.27 87.8,476.52 87.98,479.27 88.15,477.51 88.32,475.54 88.49,479.06 88.66,477.06 88.83,478.61 89.01,479.27 89.69,479.27 89.86,476.35 90.04,479.27 90.55,479.27 90.72,472.39 90.89,478.02 91.07,479.27 91.93,479.27 92.1,479 92.27,479.27 93.13,479.27 93.3,477.2 93.47,479.23 93.64,478.1 93.81,479.27 93.99,478.39 94.16,479.27 94.33,477.98 94.5,479.27 94.67,479.27 94.84,477.21 95.02,479.27 95.19,476.39 95.36,479.27 96.39,479.27 96.56,478.53 96.73,479.27 98.11,479.27 98.28,476.49 98.45,479.27 98.62,478.79 98.79,477.03 98.96,479.27 99.14,477.24 99.31,479.27 99.48,478.25 99.65,479.27 99.82,478.8 100,479.27 100.68,479.27 100.85,478.42 101.03,479.27 102.23,479.27 102.4,476.81 102.57,479.27 103.6,479.27 103.77,472.27 103.94,477.89 104.12,477.53 104.29,478.56 104.46,479.27 104.8,479.27 104.97,478.09 105.15,479.27 107.89,479.27 108.06,479.06 108.24,479.27 109.61,479.27 109.78,478.97 109.95,479.27 110.81,479.27 110.98,475.03 111.16,479.27 111.84,479.27 112.01,477.89 112.19,479.27 112.53,479.27 112.7,479.09 112.87,478.92 113.04,479.27 113.73,479.27 113.9,478.53 114.07,478 114.25,479.27 114.93,479.27 115.1,478.9 115.28,479.27 115.45,479.27 115.62,476.01 115.79,479.04 115.96,479.27 117.34,479.27 117.51,479.14 117.68,478.25 117.85,477.84 118.02,479.27 118.2,479.27 118.37,473.74 118.54,475.42 118.71,479.27 119.91,479.27 120.08,474.93 120.26,479.27 120.43,479.27 120.6,475.96 120.77,479 120.94,479.27 121.63,479.27 121.8,478.25 121.97,479.27 123,479.27 123.17,477.84 123.35,479.27 124.2,479.27 124.38,477.54 124.55,479.27 124.89,479.27 125.06,479.24 125.23,479.27 125.41,479.02 125.58,479.27 126.44,479.27 126.61,472.74 126.78,479.27 127.64,479.27 127.81,479.07 127.98,479.27 128.15,478.73 128.33,479.27 129.01,479.27 129.18,477.58 129.36,479.27 130.04,479.27 130.21,478.72 130.39,479.27 131.07,479.27 131.24,475.46 131.42,479.27 131.59,477.19 131.76,479.27 131.93,479.27 132.1,478.72 132.27,479.27 133.13,479.27 133.3,478.21 133.48,479.27 135.02,479.27 135.19,478.68 135.37,479.27 135.54,479.25 135.71,479.27 137.08,479.27 137.25,477.55 137.43,478.56 137.6,479.27 137.77,479.27 137.94,478.45 138.11,479.27 138.28,478.22 138.46,479.27 139.49,479.27 139.66,478.42 139.83,479.27 141.89,479.27 142.06,478.56 142.23,479.27 142.41,479.27 142.58,478.41 142.75,478.12 142.92,477.57 143.09,479.27 143.44,479.27 143.61,476.98 143.78,479.27 143.95,479.17 144.12,479.27 144.81,479.27 144.98,478.75 145.15,477.23 145.32,475.92 145.5,479.27 145.67,479.27 145.84,475.71 146.01,477.75 146.18,479.27 146.35,479.27 146.53,479.07 146.7,479.27 146.87,479.27 147.04,473.82 147.21,479.27 147.73,479.27 147.9,478.37 148.07,478.27 148.24,479.27 149.44,479.27 149.62,478.29 149.79,478.57 149.96,479.27 150.3,479.27 150.47,476.23 150.65,479.27 150.82,479.27 150.99,478.3 151.16,479.27 151.33,479.27 151.51,479.08 151.68,479.27 151.85,477.6 152.02,479.27 152.19,478.26 152.36,479.27 152.54,479.27 152.71,479.22 152.88,479.18 153.05,479.27 153.22,478.47 153.39,479.27 153.57,479.27 153.74,479.16 153.91,478.63 154.08,479.27 154.42,479.27 154.6,478.36 154.77,479.27 154.94,477.16 155.11,479.27 156.14,479.27 156.31,478.4 156.48,479.27 157.17,479.27 157.34,479.14 157.51,479.27 158.2,479.27 158.37,478.08 158.54,479.27 158.72,477.83 158.89,479.27 159.75,479.27 159.92,478.37 160.09,479.27 160.26,479.27 160.43,477.03 160.61,478.36 160.78,479 160.95,472.27 161.12,474.75 161.29,479.27 161.46,479.27 161.64,477.74 161.81,479.27 162.49,479.27 162.67,477.63 162.84,479.27 163.7,479.27 163.87,479.15 164.04,479.27 164.21,479.27 164.38,475.16 164.55,479.27 165.41,479.27 165.58,477.38 165.76,478.16 165.93,479.27 166.61,479.27 166.79,477 166.96,479.27 167.13,478.62 167.3,478.16 167.47,479.27 167.99,479.27 168.16,478.89 168.33,479.27 169.88,479.27 170.05,478.18 170.22,479.27 170.39,479.27 170.56,479.06 170.74,477.35 170.91,479.21 171.08,479.27 171.25,477.24 171.42,479.27 171.94,479.27 172.11,478.28 172.28,479.27 172.97,479.27 173.14,478.26 173.31,479.27 173.48,478.18 173.65,479.27 174.34,479.27 174.51,474.01 174.68,479.27 174.86,479.27 175.03,479.24 175.2,479.27 175.71,479.27 175.89,474.45 176.06,478.91 176.23,478.44 176.4,477.08 176.57,479.27 176.75,478.47 176.92,479.27 177.09,479.27 177.26,477.73 177.43,479.27 177.78,479.27 177.95,477.18 178.12,479.27 178.46,479.27 178.63,477.11 178.81,479.27 179.49,479.27 179.66,477.47 179.84,479.27 180.52,479.27 180.69,477.27 180.87,478.94 181.04,478.59 181.21,477.15 181.38,479.27 181.55,479.27 181.72,478.08 181.9,477.79 182.07,473.93 182.24,479.27 182.41,478.34 182.58,479.27 183.27,479.27 183.44,477.87 183.61,479.27 184.3,479.27 184.47,475.55 184.64,479.27 184.99,479.27 185.16,477.98 185.33,479.27 185.5,479.27 185.67,473.42 185.85,479.27 186.19,479.27 186.36,476.19 186.53,479.27 186.7,479.18 186.88,479.27 187.05,479.27 187.22,473.8 187.39,479.27 188.76,479.27 188.94,478.38 189.11,478.34 189.28,476.43 189.45,479.27 190.14,479.27 190.31,478.28 190.48,473.29 190.65,479.27 190.82,477.92 191,479.27 191.68,479.27 191.85,477.8 192.03,479.27 192.2,479.27 192.37,478.63 192.54,477.81 192.71,479.27 192.88,475.77 193.06,478.25 193.23,477.97 193.4,479.27 193.57,479.27 193.74,478.98 193.91,478.63 194.09,479.27 194.6,479.27 194.77,478.68 194.95,479.27 197.01,479.27 197.18,476.84 197.35,479.27 198.38,479.27 198.55,476.57 198.72,478.63 198.89,479.27 199.07,479.27 199.24,479.04 199.41,479.27 199.75,479.27 199.92,473.11 200.1,475.8 200.27,478.77 200.44,479.27 200.61,476.78 200.78,478.72 200.95,479.27 201.13,479.27 201.3,476.93 201.47,479.27 201.81,479.27 201.98,479.22 202.16,479.27 202.33,479.27 202.5,478.59 202.67,479.27 203.02,479.27 203.19,477.21 203.36,479.27 204.39,479.27 204.56,477.1 204.73,475.91 204.9,479.27 205.08,479.24 205.25,479.27 205.42,478.36 205.59,477.23 205.76,479.27 205.93,477.61 206.11,479.27 206.96,479.27 207.14,478.71 207.31,476.75 207.48,477.72 207.65,479.27 207.82,477.43 207.99,479.27 208.51,479.27 208.68,479.11 208.85,477.01 209.02,479.27 209.2,474.17 209.37,477.7 209.54,479.27 210.05,479.27 210.23,477.95 210.4,479.27 211.09,479.27 211.26,477.27 211.43,479.27 211.6,478.85 211.77,478.95 211.94,479.27 212.29,479.27 212.46,475.97 212.63,476.62 212.8,479.27 213.49,479.27 213.66,478.62 213.83,479.27 214.35,479.27 214.52,478.7 214.69,479.27 214.86,478.53 215.03,479.27 216.06,479.27 216.24,474.77 216.41,478.78 216.58,476.48 216.75,479.27 217.95,479.27 218.12,478.84 218.3,479.27 218.64,479.27 218.81,476.3 218.98,479.27 220.01,479.27 220.19,479.14 220.36,479.27 220.53,478.39 220.7,476.84 220.87,477.68 221.04,479.27 221.39,479.27 221.56,476.85 221.73,479.27 222.25,479.27 222.42,478.74 222.59,479.27 223.45,479.27 223.62,478.45 223.79,478.3 223.96,479.27 224.13,474.48 224.31,479.21 224.48,479.27 224.65,474.88 224.82,479.27 225.51,479.27 225.68,478.88 225.85,479.27 226.37,479.27 226.54,479.09 226.71,479.27 226.88,479.27 227.05,477.83 227.22,479.27 227.4,478.98 227.57,479.27 228.94,479.27 229.11,478.46 229.29,479.27 229.8,479.27 229.97,475.71 230.14,479.27 231,479.27 231.17,476.87 231.35,479.27 231.52,478.8 231.69,479.27 232.55,479.27 232.72,479.22 232.89,479.27 234.26,479.27 234.44,478.03 234.61,478.82 234.78,479.27 235.12,479.27 235.29,478.07 235.47,479.27 235.64,478.8 235.81,479.27 236.15,479.27 236.32,477.3 236.5,479.27 236.67,477.01 236.84,479.27 237.01,478.04 237.18,477.77 237.36,478.09 237.53,479.27 238.73,479.27 238.9,477.54 239.07,479.27 239.42,479.27 239.59,478.32 239.76,478.04 239.93,479.06 240.1,479.27 241.13,479.27 241.3,477.26 241.48,479.27 241.82,479.27 241.99,477.21 242.16,479.27 242.33,479.27 242.51,479.04 242.68,477.82 242.85,479.27 243.36,479.27 243.54,477.96 243.71,479.27 243.88,478.9 244.05,479.27 244.39,479.27 244.57,477.13 244.74,479.27 244.91,475.72 245.08,479.27 245.6,479.27 245.77,476.89 245.94,479.2 246.11,479.27 246.28,473.6 246.46,479.27 246.63,478.01 246.8,479.27 246.97,475.6 247.14,479.27 247.66,479.27 247.83,477.23 248,479.27 248.52,479.27 248.69,478.44 248.86,479.27 249.72,479.27 249.89,478.69 250.06,479.27 250.23,477.44 250.4,479.27 250.58,477.36 250.75,479.27 250.92,478.84 251.09,477.97 251.26,479.27 251.61,479.27 251.78,476.19 251.95,479.27 252.12,478.73 252.29,472.27 252.46,479.27 252.98,479.27 253.15,475.97 253.32,479.27 254.18,479.27 254.35,477.92 254.53,478.21 254.7,479.27 254.87,477.15 255.04,479.2 255.21,478.45 255.38,476.89 255.56,479.27 255.73,479.27 255.9,477.76 256.07,479.05 256.24,478.64 256.41,479.27 256.59,479.27 256.76,478.14 256.93,478.5 257.1,479.27 257.79,479.27 257.96,477.91 258.13,479.27 258.3,479.27 258.47,478.35 258.65,479.27 258.82,474.98 258.99,479.27 260.02,479.27 260.19,478.63 260.36,479.27 261.22,479.27 261.39,478.73 261.56,479.27 261.91,479.27 262.08,476.38 262.25,479.27 262.42,479.02 262.59,479.27 262.77,479.27 262.94,478.69 263.11,479.27 263.28,478.42 263.45,479.27 263.8,479.27 263.97,478.96 264.14,478.74 264.31,479.06 264.48,477.64 264.66,479.27 265,479.27 265.17,478.4 265.34,478.49 265.51,474.96 265.69,479.27 265.86,479.22 266.03,479.27 266.37,479.27 266.54,475.47 266.72,479.27 267.23,479.27 267.4,475.51 267.57,479.27 267.92,479.27 268.09,475.05 268.26,479.27 269.46,479.27 269.63,479.21 269.81,479.27 269.98,479.27 270.15,478.51 270.32,479.27 272.55,479.27 272.73,478.29 272.9,474.02 273.07,479.27 273.41,479.27 273.58,478.28 273.76,479.27 274.44,479.27 274.61,474.27 274.79,479.27 274.96,479.27 275.13,473.11 275.3,479.27 275.47,478.8 275.64,479.27 275.82,478.09 275.99,479.27 276.5,479.27 276.67,478.44 276.85,479.12 277.02,479.27 277.19,479.27 277.36,477.79 277.53,479.27 277.7,478.5 277.88,479.27 278.05,478.68 278.22,479.27 278.39,475.85 278.56,479.27 278.73,477.18 278.91,477.38 279.08,475.79 279.25,478.96 279.42,479.27 280.45,479.27 280.62,476.09 280.8,477.87 280.97,478.68 281.14,477.83 281.31,472.27 281.48,479.27 282,479.27 282.17,478.13 282.34,479.27 282.51,479.27 282.68,478.76 282.86,479.27 283.2,479.27 283.37,477.83 283.54,478.8 283.71,479.27 284.23,479.27 284.4,476.97 284.57,479.27 285.77,479.27 285.95,477.97 286.12,479.27 286.29,479.03 286.46,478.92 286.63,479.27 287.15,479.27 287.32,478.27 287.49,479.27 288.01,479.27 288.18,474.69 288.35,479.27 288.52,478.11 288.69,479.27 289.38,479.27 289.55,479.07 289.72,476.97 289.9,479.27 291.1,479.27 291.27,478.95 291.44,478.68 291.61,479.18 291.78,479.11 291.96,479.27 292.3,479.27 292.47,478.69 292.64,479.27 292.81,475.07 292.99,479.27 293.16,479.27 293.33,478.38 293.5,479.08 293.67,479.27 293.84,478.44 294.02,479.27 294.36,479.27 294.53,472.27 294.7,479.27 295.05,479.27 295.22,478.27 295.39,479.27 295.56,479.27 295.73,479.07 295.9,479.27 296.08,479.27 296.25,477.06 296.42,476.12 296.59,479.27 296.76,476.57 296.94,479.27 298.14,479.27 298.31,476.73 298.48,479.27 298.65,479.27 298.82,476.4 299,478.16 299.17,479.27 300.71,479.27 300.88,477.96 301.06,479.27 301.23,479.27 301.4,479.17 301.57,479.27 301.74,479.27 301.91,478.86 302.09,476.03 302.26,479.27 303.29,479.27 303.46,475.03 303.63,479.27 304.49,479.27 304.66,479.18 304.83,479.27 305,479.27 305.18,478.39 305.35,478.53 305.52,479.27 307.92,479.27 308.1,477.74 308.27,479.27 308.95,479.27 309.13,477.83 309.3,478.7 309.47,477.81 309.64,479.27 309.81,478.99 309.98,479.27 310.16,479.27 310.33,479.2 310.5,477.7 310.67,478.74 310.84,479.27 311.01,477.24 311.19,479.27 312.04,479.27 312.22,478.89 312.39,479.27 312.56,474.5 312.73,479.27 312.9,473.71 313.07,479.27 313.59,479.27 313.76,478.43 313.93,479.27 314.62,479.27 314.79,478.8 314.96,475.95 315.14,479.27 315.82,479.27 315.99,477.9 316.17,475.54 316.34,479.27 316.51,478.52 316.68,479.27 317.2,479.27 317.37,477.82 317.54,478.88 317.71,478.7 317.88,479.27 318.05,479.27 318.23,475.05 318.4,477.35 318.57,479.22 318.74,479.27 319.08,479.27 319.26,475.51 319.43,479.27 319.6,479.27 319.77,478.11 319.94,479.27 320.29,479.27 320.46,478.77 320.63,479.27 320.8,477.23 320.97,479.27 321.14,478.56 321.32,479.27 322,479.27 322.17,478.53 322.35,479.27 322.86,479.27 323.03,478.59 323.21,479.27 323.38,477.38 323.55,474.19 323.72,479.27 323.89,475.96 324.06,479.27 324.41,479.27 324.58,475.03 324.75,479.03 324.92,478.43 325.09,479.27 325.27,479.27 325.44,477.43 325.61,479.27 326.12,479.27 326.3,479.24 326.47,479.27 326.98,479.27 327.15,478.93 327.33,478.64 327.5,479.27 327.84,479.27 328.01,475.51 328.18,472.27 328.36,479.27 328.53,479.27 328.7,478.92 328.87,479.27 330.76,479.27 330.93,478.66 331.1,479.27 331.27,479.27 331.45,476.79 331.62,479.27 331.79,478.38 331.96,479.27 332.48,479.27 332.65,476.27 332.82,479.27 333.68,479.27 333.85,479.24 334.02,476.83 334.19,479.27 334.37,478.42 334.54,479.27 334.71,479.27 334.88,476.56 335.05,479.27 335.22,477.92 335.4,479.27 337.97,479.27 338.14,476.26 338.31,478.3 338.49,479.27 338.66,479.27 338.83,477.61 339,477.65 339.17,479.27 339.34,479.27 339.52,476.57 339.69,479.27 339.86,474.65 340.03,479.27 340.89,479.27 341.06,479.06 341.23,478.22 341.41,479.27 342.78,479.27 342.95,475.53 343.12,479.27 343.47,479.27 343.64,478.45 343.81,479.27 344.67,479.27 344.84,478.6 345.01,478.95 345.18,479.24 345.35,479.27 345.53,476.41 345.7,479.27 345.87,477.76 346.04,479.27 347.24,479.27 347.41,476.14 347.59,479.27 348.44,479.27 348.62,479.2 348.79,479.27 349.65,479.27 349.82,479.08 349.99,479.27 350.33,479.27 350.51,476.87 350.68,479.27 350.85,479.27 351.02,476.76 351.19,479.27 351.36,479.09 351.54,479.27 351.71,479.27 351.88,478.24 352.05,479.27 352.39,479.27 352.57,477.64 352.74,479.27 353.77,479.27 353.94,478.27 354.11,479.27 354.28,479.27 354.45,478.01 354.63,479.27 355.66,479.27 355.83,479.2 356,479.27 356.17,479.27 356.34,472.27 356.51,479.27 356.69,479.27 356.86,473.27 357.03,477.08" fill="none" stroke="#F2BBA3" stroke-width="0.6" stroke-opacity="1.0" stroke-linejoin="round"/>
<polyline points="30.8,420.65 30.97,421.9 31.14,438.94 31.32,451.39 31.49,460.2 31.66,466.32 31.83,470.51 32,473.37 32.17,475.3 32.35,475.96 32.52,475.91 32.69,476.49 32.86,477.13 33.03,477.64 33.2,478.04 33.38,478.34 33.55,478.58 33.72,478.75 33.89,477.89 34.06,478.12 34.23,478.27 34.41,478.54 34.58,478.75 34.75,478.89 34.92,478.83 35.09,478.95 35.26,478.5 35.44,478.72 35.61,478.87 35.78,478.99 35.95,479.07 36.12,479.13 36.29,479.17 36.47,479.2 37.15,479.23 37.32,477.61 37.5,478.08 37.67,474.11 37.84,475.55 38.01,476.6 38.18,477.35 38.35,477.89 38.53,477.47 38.7,477.32 38.87,477.86 39.04,478.26 39.21,478.54 39.38,478.75 39.56,478.8 39.73,478.94 39.9,479.03 40.07,477.79 40.24,478.21 40.42,478.51 40.59,478.72 40.76,475.06 40.93,476.01 41.1,476.92 41.27,477.58 41.45,478.05 41.62,478.4 41.79,478.64 41.96,475 42.13,475.59 42.3,476.62 42.48,477.37 42.65,477.9 42.82,478.28 42.99,477.75 43.16,478.18 43.33,478.17 43.51,478.48 43.68,478.7 43.85,478.86 44.02,478.98 44.19,479.06 44.36,479.12 44.54,479.11 44.71,478.75 44.88,478.89 45.05,479 45.22,479.08 45.39,479.13 45.57,479.17 45.74,479.19 45.91,478.94 46.08,479.04 46.25,479.1 46.42,479.15 46.6,479.19 46.77,478.2 46.94,478.5 47.11,478.72 47.28,476.99 47.45,477.63 47.63,478.09 47.8,473.91 47.97,473.45 48.14,475.08 48.31,475.73 48.49,476.73 48.66,477.44 48.83,477.88 49,478.27 49.17,478.55 49.34,478.43 49.52,478.67 49.69,478.84 49.86,478.96 50.03,479.05 50.2,479.11 50.37,479.16 50.55,478.86 50.72,478.25 50.89,478.54 51.06,478.74 51.23,478.64 51.4,478.82 51.58,477.02 51.75,477.65 51.92,478.11 52.09,478.43 52.26,478.67 52.43,478.84 52.61,478.96 52.78,479.05 52.95,479.11 53.12,478.63 53.29,478.81 53.46,478.94 53.64,479.03 53.81,479.1 53.98,479.15 54.15,479.18 54.32,479.21 54.49,475.06 54.67,476.24 54.84,477.09 55.01,477.7 55.18,478.14 55.35,478.46 55.52,478.69 55.7,478.85 55.87,478.97 56.04,479.06 56.21,478.86 56.38,478.98 56.55,479.06 56.73,479.12 56.9,479.16 57.07,479.19 59.13,479.27 59.3,478.53 59.47,478.74 59.65,478.89 59.82,478.01 59.99,478.36 60.16,472.7 60.33,474.54 60.5,475.87 60.68,476.82 60.85,477.51 61.02,478 61.19,478.36 61.36,478.62 61.53,478.8 61.71,478.93 61.88,479.03 62.05,479.1 62.22,479.15 62.39,479.18 62.56,479.21 63.94,479.27 64.11,478.74 64.28,478.89 64.45,476.23 64.62,477.09 64.8,477.7 64.97,478.14 65.14,477.93 65.31,478.31 65.48,478.58 65.66,476.36 65.83,475.76 66,476.75 66.17,477.45 66.34,477.96 66.51,478.33 66.69,478.6 66.86,478.79 67.03,478.92 67.2,479.02 67.37,479.09 67.54,479.14 67.72,479.18 67.89,479.21 68.06,478.51 68.23,478.72 68.4,478.71 68.57,478.87 68.75,478.98 68.92,479.07 69.09,478.98 69.26,479.06 69.43,478.35 69.6,478.58 69.78,478.77 69.95,478.91 70.12,479.02 70.29,479.09 70.46,479.14 70.63,479.18 70.81,479.21 71.66,479.26 71.84,477.55 72.01,478.03 72.18,477.58 72.35,476.83 72.52,477.51 72.69,478.01 72.87,478.36 73.04,478.62 73.21,478.8 73.38,478.93 73.55,479.03 73.72,479.1 73.9,479.15 74.07,479.18 74.24,479.21 75.1,479.26 75.27,478.25 75.44,478.53 75.61,478.74 75.79,478.89 75.96,479 76.13,479.08 76.3,479.13 76.47,479.17 76.64,479.2 76.99,479.24 77.16,478.97 77.33,478.79 77.5,478.93 77.67,479.03 77.85,479.1 78.02,479.15 78.19,478.53 78.36,478.62 78.53,478.81 78.7,477.07 78.88,477.69 79.05,478.13 79.22,478.45 79.39,476.58 79.56,476.82 79.73,477.51 79.91,478 80.08,478.36 80.25,478.62 80.42,478.8 80.59,478.93 80.76,478.88 80.94,478.99 81.11,479.07 81.28,479.13 81.45,479.17 81.62,479.2 81.79,479.22 81.97,477.73 82.14,478.16 82.31,478.47 82.48,478.7 82.65,478.71 82.83,478.87 83,478.98 83.17,479.06 83.34,479.12 83.51,479.17 83.68,479.2 87.29,479.27 87.46,479.2 87.63,479.22 87.8,478.46 87.98,478.69 88.15,478.36 88.32,477.57 88.49,477.99 88.66,477.73 88.83,477.98 89.01,478.34 89.18,478.6 89.35,478.79 89.52,478.93 89.69,479.02 89.86,478.27 90.04,478.55 90.21,478.76 90.38,478.9 90.55,479.01 90.72,477.15 90.89,477.4 91.07,477.92 91.24,478.3 91.41,478.57 91.58,478.77 91.75,478.91 91.93,479.01 92.1,479.01 92.27,479.08 92.44,479.14 92.61,479.18 92.78,479.2 93.13,479.24 93.3,478.67 93.47,478.82 93.64,478.62 93.81,478.8 93.99,478.69 94.16,478.85 94.33,478.61 94.5,478.8 94.67,478.93 94.84,478.45 95.02,478.68 95.19,478.04 95.36,478.39 95.53,478.63 95.7,478.81 95.87,478.94 96.05,479.04 96.22,479.1 96.39,479.15 96.56,478.98 96.73,479.06 96.9,479.12 97.08,479.16 97.25,479.2 98.11,479.26 98.28,478.48 98.45,478.71 98.62,478.73 98.79,478.25 98.96,478.54 99.14,478.18 99.31,478.48 99.48,478.42 99.65,478.66 99.82,478.7 100,478.86 100.17,478.98 100.34,479.06 100.51,479.12 100.68,479.16 100.85,478.96 101.03,479.04 101.2,479.11 101.37,479.16 101.54,479.19 102.23,479.25 102.4,478.57 102.57,478.77 102.74,478.91 102.91,479.01 103.09,479.09 103.26,479.14 103.43,479.18 103.6,479.2 103.77,477.26 103.94,477.44 104.12,477.46 104.29,477.77 104.46,478.19 104.63,478.5 104.8,478.71 104.97,478.54 105.15,478.75 105.32,478.89 105.49,479 105.66,479.08 105.83,479.13 106,479.17 106.18,479.2 107.89,479.27 108.06,479.21 109.61,479.27 109.78,479.19 110.81,479.26 110.98,478.08 111.16,478.41 111.33,478.65 111.5,478.83 111.67,478.95 111.84,479.04 112.01,478.72 112.19,478.87 112.36,478.99 112.53,479.07 112.7,479.07 112.87,479.03 113.04,479.1 113.22,479.15 113.39,479.18 113.56,479.21 113.73,479.23 113.9,479.03 114.07,478.74 114.25,478.89 114.42,479 114.59,479.08 114.76,479.13 114.93,479.17 115.1,479.1 115.28,479.15 115.45,479.18 115.62,478.29 115.79,478.5 115.96,478.72 116.13,478.87 116.31,478.99 116.48,479.07 116.65,479.13 116.82,479.17 116.99,479.2 117.34,479.23 117.51,479.21 117.68,478.94 117.85,478.63 118.02,478.81 118.2,478.94 118.37,477.49 118.54,476.91 118.71,477.57 118.88,478.05 119.05,478.39 119.23,478.64 119.4,478.82 119.57,478.95 119.74,479.04 119.91,479.1 120.08,477.94 120.26,478.31 120.43,478.58 120.6,477.85 120.77,478.17 120.94,478.48 121.11,478.7 121.29,478.86 121.46,478.98 121.63,479.06 121.8,478.84 121.97,478.96 122.14,479.05 122.32,479.11 122.49,479.16 122.66,479.19 123,479.23 123.17,478.84 123.35,478.96 123.52,479.05 123.69,479.11 123.86,479.16 124.03,479.19 124.2,479.21 124.38,478.75 124.55,478.89 124.72,479 124.89,479.08 125.06,479.12 125.23,479.17 125.41,479.12 125.58,479.17 125.75,479.2 126.44,479.25 126.61,477.43 126.78,477.95 126.95,478.32 127.12,478.59 127.3,478.78 127.47,478.92 127.64,479.02 127.81,479.03 127.98,479.1 128.15,479 128.33,479.07 128.5,479.13 128.67,479.17 128.84,479.2 129.01,479.22 129.18,478.76 129.36,478.91 129.53,479.01 129.7,479.08 129.87,479.14 130.04,479.18 130.21,479.05 130.39,479.11 130.56,479.16 130.73,479.19 131.07,479.23 131.24,478.17 131.42,478.48 131.59,478.12 131.76,478.44 131.93,478.68 132.1,478.69 132.27,478.85 132.45,478.97 132.62,479.06 132.79,479.12 132.96,479.16 133.13,479.19 133.3,478.92 133.48,479.02 133.65,479.09 133.82,479.14 133.99,479.18 134.16,479.21 135.02,479.26 135.19,479.1 135.37,479.15 135.54,479.18 135.71,479.2 137.08,479.27 137.25,478.79 137.43,478.73 137.6,478.88 137.77,478.99 137.94,478.84 138.11,478.96 138.28,478.75 138.46,478.9 138.63,479 138.8,479.08 138.97,479.13 139.14,479.17 139.31,479.2 139.49,479.22 139.66,479 139.83,479.08 140,479.13 140.17,479.17 140.34,479.2 141.89,479.27 142.06,479.07 142.23,479.13 142.41,479.17 142.58,478.96 142.75,478.72 142.92,478.4 143.09,478.64 143.26,478.82 143.44,478.95 143.61,478.4 143.78,478.64 143.95,478.79 144.12,478.93 144.29,479.02 144.47,479.09 144.64,479.14 144.81,479.18 144.98,479.06 145.15,478.55 145.32,477.81 145.5,478.22 145.67,478.52 145.84,477.73 146.01,477.74 146.18,478.17 146.35,478.48 146.53,478.64 146.7,478.82 146.87,478.95 147.04,477.51 147.21,478.01 147.38,478.36 147.56,478.62 147.73,478.8 147.9,478.68 148.07,478.56 148.24,478.76 148.41,478.91 148.59,479.01 148.76,479.08 148.93,479.14 149.1,479.18 149.27,479.2 149.44,479.22 149.62,478.96 149.79,478.85 149.96,478.97 150.13,479.06 150.3,479.12 150.47,478.31 150.65,478.58 150.82,478.77 150.99,478.64 151.16,478.82 151.33,478.95 151.51,478.98 151.68,479.07 151.85,478.66 152.02,478.83 152.19,478.67 152.36,478.84 152.54,478.96 152.71,479.03 152.88,479.08 153.05,479.13 153.22,478.95 153.39,479.04 153.57,479.11 153.74,479.12 153.91,478.98 154.08,479.06 154.25,479.12 154.42,479.17 154.6,478.94 154.77,479.03 154.94,478.51 155.11,478.72 155.28,478.88 155.45,478.99 155.63,479.07 155.8,479.13 155.97,479.17 156.14,479.2 156.31,478.98 156.48,479.06 156.66,479.12 156.83,479.16 157,479.19 158.2,479.26 158.37,478.93 158.54,479.03 158.72,478.69 158.89,478.86 159.06,478.97 159.23,479.06 159.4,479.12 159.58,479.16 159.75,479.19 159.92,478.96 160.09,479.05 160.26,479.11 160.43,478.53 160.61,478.48 160.78,478.63 160.95,476.85 161.12,476.26 161.29,477.11 161.46,477.71 161.64,477.72 161.81,478.16 161.98,478.47 162.15,478.69 162.32,478.86 162.49,478.97 162.67,478.6 162.84,478.79 163.01,478.92 163.18,479.02 163.35,479.09 163.52,479.14 163.7,479.18 163.87,479.17 164.04,479.2 164.21,479.22 164.38,478.08 164.55,478.42 164.73,478.66 164.9,478.83 165.07,478.95 165.24,479.04 165.41,479.11 165.58,478.62 165.76,478.49 165.93,478.71 166.1,478.87 166.27,478.98 166.44,479.07 166.61,479.12 166.79,478.53 166.96,478.74 167.13,478.71 167.3,478.55 167.47,478.76 167.64,478.9 167.82,479.01 167.99,479.08 168.16,479.03 168.33,479.1 168.5,479.15 168.68,479.18 168.85,479.21 169.88,479.27 170.05,478.96 170.22,479.05 170.39,479.11 170.56,479.1 170.74,478.61 170.91,478.78 171.08,478.92 171.25,478.45 171.42,478.68 171.59,478.85 171.77,478.97 171.94,479.05 172.11,478.84 172.28,478.96 172.45,479.05 172.62,479.11 172.8,479.16 172.97,479.19 173.14,478.93 173.31,479.03 173.48,478.79 173.65,478.92 173.83,479.02 174,479.09 174.17,479.14 174.34,479.18 174.51,477.73 174.68,478.16 174.86,478.48 175.03,478.69 175.2,478.85 175.37,478.97 175.54,479.06 175.71,479.12 175.89,477.81 176.06,478.12 176.23,478.21 176.4,477.89 176.57,478.28 176.75,478.33 176.92,478.6 177.09,478.79 177.26,478.49 177.43,478.71 177.6,478.87 177.78,478.98 177.95,478.48 178.12,478.7 178.29,478.86 178.46,478.98 178.63,478.45 178.81,478.68 178.98,478.85 179.15,478.97 179.32,479.05 179.49,479.12 179.66,478.66 179.84,478.83 180.01,478.95 180.18,479.04 180.35,479.11 180.52,479.16 180.69,478.63 180.87,478.72 181.04,478.68 181.21,478.25 181.38,478.54 181.55,478.75 181.72,478.56 181.9,478.34 182.07,477.11 182.24,477.72 182.41,477.89 182.58,478.28 182.75,478.56 182.93,478.76 183.1,478.9 183.27,479.01 183.44,478.69 183.61,478.85 183.78,478.97 183.96,479.06 184.13,479.12 184.3,479.16 184.47,478.15 184.64,478.46 184.81,478.69 184.99,478.85 185.16,478.61 185.33,478.8 185.5,478.93 185.67,477.39 185.85,477.92 186.02,478.3 186.19,478.57 186.36,477.9 186.53,478.29 186.7,478.54 186.88,478.75 187.05,478.89 187.22,477.47 187.39,477.97 187.56,478.34 187.73,478.6 187.91,478.79 188.08,478.93 188.25,479.02 188.42,479.09 188.59,479.14 188.76,479.18 188.94,478.96 189.11,478.79 189.28,478.13 189.45,478.45 189.62,478.68 189.79,478.85 189.97,478.97 190.14,479.05 190.31,478.84 190.48,477.28 190.65,477.84 190.82,477.86 191,478.26 191.17,478.54 191.34,478.75 191.51,478.9 191.68,479 191.85,478.66 192.03,478.84 192.2,478.96 192.37,478.87 192.54,478.57 192.71,478.77 192.88,477.93 193.06,478.02 193.23,478.01 193.4,478.36 193.57,478.62 193.74,478.72 193.91,478.7 194.09,478.86 194.26,478.97 194.43,479.06 194.6,479.12 194.77,479 194.95,479.07 195.12,479.13 195.29,479.17 195.46,479.2 197.01,479.27 197.18,478.59 197.35,478.78 197.52,478.92 197.69,479.02 197.86,479.09 198.04,479.14 198.21,479.18 198.38,479.21 198.55,478.47 198.72,478.51 198.89,478.73 199.07,478.88 199.24,478.93 199.41,479.02 199.58,479.09 199.75,479.14 199.92,477.46 200.1,476.99 200.27,477.49 200.44,477.99 200.61,477.65 200.78,477.95 200.95,478.32 201.13,478.59 201.3,478.12 201.47,478.45 201.64,478.68 201.81,478.85 201.98,478.95 202.16,479.04 202.33,479.11 202.5,478.96 202.67,479.05 202.84,479.11 203.02,479.16 203.19,478.61 203.36,478.8 203.53,478.93 203.7,479.03 203.87,479.1 204.05,479.15 204.22,479.18 204.39,479.21 204.56,478.62 204.73,477.86 204.9,478.26 205.08,478.53 205.25,478.74 205.42,478.64 205.59,478.24 205.76,478.53 205.93,478.27 206.11,478.55 206.28,478.76 206.45,478.9 206.62,479.01 206.79,479.08 206.96,479.14 207.14,479.02 207.31,478.38 207.48,478.2 207.65,478.5 207.82,478.2 207.99,478.5 208.17,478.72 208.34,478.87 208.51,478.99 208.68,479.02 208.85,478.46 209.02,478.69 209.2,477.42 209.37,477.5 209.54,478 209.71,478.36 209.88,478.61 210.05,478.8 210.23,478.56 210.4,478.76 210.57,478.9 210.74,479.01 210.91,479.08 211.09,479.14 211.26,478.61 211.43,478.8 211.6,478.81 211.77,478.85 211.94,478.97 212.12,479.06 212.29,479.12 212.46,478.23 212.63,477.78 212.8,478.2 212.97,478.5 213.15,478.72 213.32,478.87 213.49,478.99 213.66,478.88 213.83,478.99 214,479.07 214.18,479.13 214.35,479.17 214.52,479.04 214.69,479.1 214.86,478.94 215.03,479.04 215.21,479.1 215.38,479.15 215.55,479.19 215.72,479.21 216.06,479.24 216.24,477.99 216.41,478.21 216.58,477.72 216.75,478.16 216.92,478.47 217.09,478.7 217.27,478.86 217.44,478.98 217.61,479.06 217.78,479.12 217.95,479.16 218.12,479.07 218.3,479.13 218.47,479.17 218.64,479.2 218.81,478.39 218.98,478.64 219.15,478.81 219.33,478.94 219.5,479.04 219.67,479.1 219.84,479.15 220.01,479.19 220.19,479.17 220.36,479.2 220.53,478.97 220.7,478.38 220.87,478.18 221.04,478.49 221.22,478.71 221.39,478.87 221.56,478.3 221.73,478.57 221.9,478.77 222.07,478.91 222.25,479.01 222.42,478.94 222.59,479.03 222.76,479.1 222.93,479.15 223.1,479.18 223.28,479.21 223.45,479.23 223.62,479.01 223.79,478.81 223.96,478.94 224.13,477.69 224.31,478.12 224.48,478.44 224.65,477.44 224.82,477.96 224.99,478.33 225.16,478.59 225.34,478.78 225.51,478.92 225.68,478.91 225.85,479.01 226.02,479.09 226.19,479.14 226.37,479.18 226.54,479.15 226.71,479.19 226.88,479.21 227.05,478.82 227.22,478.95 227.4,478.96 227.57,479.05 227.74,479.11 227.91,479.16 228.08,479.19 228.94,479.26 229.11,479.04 229.29,479.1 229.46,479.15 229.63,479.19 229.8,479.21 229.97,478.23 230.14,478.52 230.32,478.73 230.49,478.89 230.66,478.99 230.83,479.07 231,479.13 231.17,478.5 231.35,478.71 231.52,478.74 231.69,478.89 231.86,479 232.03,479.07 232.2,479.13 232.38,479.17 232.55,479.2 234.26,479.27 234.44,478.92 234.61,478.89 234.78,479 234.95,479.08 235.12,479.13 235.29,478.83 235.47,478.96 235.64,478.91 235.81,479.02 235.98,479.09 236.15,479.14 236.32,478.63 236.5,478.81 236.67,478.31 236.84,478.58 237.01,478.43 237.18,478.24 237.36,478.2 237.53,478.5 237.7,478.72 237.87,478.87 238.04,478.99 238.21,479.07 238.39,479.13 238.56,479.17 238.73,479.2 238.9,478.73 239.07,478.89 239.24,478.99 239.42,479.07 239.59,478.86 239.76,478.63 239.93,478.75 240.1,478.9 240.27,479 240.45,479.08 240.62,479.13 240.79,479.17 240.96,479.2 241.13,479.22 241.3,478.67 241.48,478.84 241.65,478.96 241.82,479.05 241.99,478.53 242.16,478.74 242.33,478.89 242.51,478.93 242.68,478.62 242.85,478.81 243.02,478.94 243.19,479.03 243.36,479.1 243.54,478.78 243.71,478.92 243.88,478.91 244.05,479.01 244.22,479.09 244.39,479.14 244.57,478.58 244.74,478.77 244.91,477.92 245.08,478.3 245.25,478.57 245.43,478.77 245.6,478.91 245.77,478.35 245.94,478.58 246.11,478.78 246.28,477.33 246.46,477.87 246.63,477.91 246.8,478.29 246.97,477.54 247.14,478.02 247.31,478.37 247.49,478.63 247.66,478.81 247.83,478.37 248,478.62 248.17,478.8 248.34,478.94 248.52,479.03 248.69,478.87 248.86,478.98 249.03,479.06 249.2,479.12 249.37,479.17 249.55,479.2 249.72,479.22 249.89,479.07 250.06,479.13 250.23,478.66 250.4,478.83 250.58,478.42 250.75,478.66 250.92,478.71 251.09,478.5 251.26,478.72 251.43,478.87 251.61,478.99 251.78,478.2 251.95,478.5 252.12,478.57 252.29,476.81 252.46,477.5 252.64,477.99 252.81,478.35 252.98,478.61 253.15,477.87 253.32,478.26 253.49,478.55 253.67,478.75 253.84,478.9 254.01,479 254.18,479.08 254.35,478.76 254.53,478.6 254.7,478.79 254.87,478.33 255.04,478.57 255.21,478.54 255.38,478.08 255.56,478.41 255.73,478.65 255.9,478.4 256.07,478.59 256.24,478.6 256.41,478.79 256.59,478.93 256.76,478.71 256.93,478.65 257.1,478.82 257.27,478.95 257.44,479.04 257.62,479.11 257.79,479.15 257.96,478.8 258.13,478.94 258.3,479.03 258.47,478.84 258.65,478.96 258.82,477.85 258.99,478.25 259.16,478.54 259.33,478.74 259.5,478.89 259.68,479 259.85,479.08 260.02,479.13 260.19,478.99 260.36,479.07 260.53,479.13 260.71,479.17 260.88,479.2 261.22,479.24 261.39,479.09 261.56,479.14 261.74,479.18 261.91,479.21 262.08,478.41 262.25,478.66 262.42,478.76 262.59,478.9 262.77,479.01 262.94,478.92 263.11,479.02 263.28,478.85 263.45,478.97 263.63,479.05 263.8,479.12 263.97,479.07 264.14,478.98 264.31,479 264.48,478.62 264.66,478.8 264.83,478.94 265,479.03 265.17,478.85 265.34,478.75 265.51,477.69 265.69,478.13 265.86,478.44 266.03,478.67 266.2,478.84 266.37,478.96 266.54,477.98 266.72,478.34 266.89,478.61 267.06,478.79 267.23,478.93 267.4,477.97 267.57,478.34 267.75,478.6 267.92,478.79 268.09,477.74 268.26,478.17 268.43,478.48 268.6,478.7 268.78,478.86 268.95,478.98 269.12,479.06 269.29,479.12 269.46,479.16 269.63,479.18 269.81,479.2 269.98,479.22 270.15,479.02 270.32,479.09 270.49,479.15 270.66,479.18 270.84,479.21 272.55,479.27 272.73,479 272.9,477.6 273.07,478.07 273.24,478.41 273.41,478.65 273.58,478.55 273.76,478.75 273.93,478.9 274.1,479 274.27,479.08 274.44,479.13 274.61,477.77 274.79,478.19 274.96,478.5 275.13,476.99 275.3,477.63 275.47,477.96 275.64,478.32 275.82,478.26 275.99,478.54 276.16,478.75 276.33,478.9 276.5,479 276.67,478.84 276.85,478.92 277.02,479.02 277.19,479.09 277.36,478.73 277.53,478.88 277.7,478.77 277.88,478.91 278.05,478.85 278.22,478.97 278.39,478.09 278.56,478.42 278.73,478.08 278.91,477.88 279.08,477.3 279.25,477.76 279.42,478.18 279.59,478.49 279.76,478.71 279.94,478.87 280.11,478.98 280.28,479.06 280.45,479.12 280.62,478.27 280.8,478.16 280.97,478.31 281.14,478.17 281.31,476.52 281.48,477.29 281.65,477.85 281.83,478.25 282,478.53 282.17,478.42 282.34,478.66 282.51,478.83 282.68,478.81 282.86,478.94 283.03,479.03 283.2,479.1 283.37,478.75 283.54,478.76 283.71,478.9 283.89,479.01 284.06,479.08 284.23,479.14 284.4,478.53 284.57,478.74 284.74,478.89 284.92,479 285.09,479.07 285.26,479.13 285.43,479.17 285.6,479.2 285.77,479.22 285.95,478.87 286.12,478.98 286.46,478.98 286.63,479.06 286.8,479.12 286.98,479.16 287.15,479.2 287.32,478.94 287.49,479.03 287.66,479.1 287.83,479.15 288.01,479.18 288.18,477.93 288.35,478.3 288.52,478.25 288.69,478.54 288.87,478.74 289.04,478.89 289.21,479 289.38,479.08 289.55,479.07 289.72,478.48 289.9,478.71 290.07,478.86 290.24,478.98 290.41,479.06 290.58,479.12 290.75,479.16 290.93,479.2 291.1,479.22 291.27,479.14 291.44,479.01 291.61,479.06 291.78,479.07 291.96,479.13 292.13,479.17 292.3,479.2 292.47,479.06 292.64,479.12 292.81,477.98 292.99,478.35 293.16,478.61 293.33,478.54 293.5,478.69 293.67,478.86 293.84,478.74 294.02,478.89 294.19,479 294.36,479.08 294.53,477.17 294.7,477.76 294.87,478.18 295.05,478.49 295.22,478.43 295.39,478.67 295.56,478.84 295.73,478.9 295.9,479.01 296.08,479.08 296.25,478.52 296.42,477.84 296.59,478.25 296.76,477.78 296.94,478.2 297.11,478.5 297.28,478.72 297.45,478.87 297.62,478.99 297.79,479.07 297.97,479.12 298.14,479.17 298.31,478.48 298.48,478.71 298.65,478.87 298.82,478.17 299,478.17 299.17,478.48 299.34,478.7 299.51,478.86 299.68,478.98 299.85,479.06 300.03,479.12 300.2,479.16 300.37,479.19 300.71,479.23 300.88,478.88 301.06,478.99 301.23,479.07 301.4,479.1 301.57,479.15 301.74,479.18 301.91,479.09 302.09,478.24 302.26,478.53 302.43,478.74 302.6,478.89 302.77,479 302.94,479.07 303.12,479.13 303.29,479.17 303.46,478.01 303.63,478.36 303.8,478.62 303.97,478.8 304.15,478.94 304.32,479.03 304.49,479.1 304.66,479.12 304.83,479.17 305,479.2 305.18,478.97 305.35,478.85 305.52,478.97 305.69,479.05 305.86,479.12 306.04,479.16 306.21,479.19 307.92,479.27 308.1,478.84 308.27,478.96 308.44,479.05 308.61,479.11 308.78,479.16 308.95,479.19 309.13,478.81 309.3,478.78 309.47,478.51 309.64,478.72 309.81,478.8 309.98,478.93 310.16,479.03 310.33,479.08 310.5,478.69 310.67,478.7 310.84,478.86 311.01,478.41 311.19,478.65 311.36,478.83 311.53,478.95 311.7,479.04 311.87,479.11 312.04,479.15 312.22,479.08 312.39,479.14 312.56,477.84 312.73,478.24 312.9,476.97 313.07,477.62 313.25,478.08 313.42,478.41 313.59,478.66 313.76,478.59 313.93,478.78 314.11,478.92 314.28,479.02 314.45,479.09 314.62,479.14 314.79,479.05 314.96,478.18 315.14,478.49 315.31,478.71 315.48,478.87 315.65,478.98 315.82,479.06 315.99,478.74 316.17,477.84 316.34,478.24 316.51,478.32 316.68,478.59 316.85,478.78 317.02,478.92 317.2,479.02 317.37,478.68 317.54,478.74 317.71,478.73 317.88,478.88 318.05,478.99 318.23,477.89 318.4,477.74 318.57,478.15 318.74,478.47 318.91,478.69 319.08,478.86 319.26,477.92 319.43,478.3 319.6,478.57 319.77,478.44 319.94,478.68 320.11,478.84 320.29,478.96 320.46,478.91 320.63,479.01 320.8,478.51 320.97,478.73 321.14,478.68 321.32,478.85 321.49,478.97 321.66,479.05 321.83,479.11 322,479.16 322.17,478.98 322.35,479.07 322.52,479.12 322.69,479.17 322.86,479.2 323.03,479.03 323.21,479.1 323.38,478.62 323.55,477.38 323.72,477.91 323.89,477.36 324.06,477.9 324.24,478.28 324.41,478.56 324.58,477.57 324.75,477.98 324.92,478.11 325.09,478.43 325.27,478.67 325.44,478.32 325.61,478.59 325.78,478.78 325.95,478.92 326.12,479.02 326.3,479.08 326.47,479.13 326.64,479.17 326.81,479.2 326.98,479.22 327.15,479.14 327.33,479 327.5,479.08 327.67,479.13 327.84,479.17 328.01,478.15 328.18,476.5 328.36,477.28 328.53,477.84 328.7,478.14 328.87,478.46 329.04,478.69 329.21,478.85 329.39,478.97 329.56,479.06 329.73,479.12 329.9,479.16 330.07,479.19 330.76,479.25 330.93,479.09 331.1,479.14 331.27,479.18 331.45,478.51 331.62,478.72 331.79,478.63 331.96,478.81 332.13,478.94 332.31,479.03 332.48,479.1 332.65,478.31 332.82,478.58 332.99,478.77 333.16,478.91 333.34,479.02 333.51,479.09 333.68,479.14 333.85,479.17 334.02,478.51 334.19,478.73 334.37,478.64 334.54,478.82 334.71,478.95 334.88,478.28 335.05,478.56 335.22,478.38 335.4,478.63 335.57,478.81 335.74,478.94 335.91,479.03 336.08,479.1 336.25,479.15 336.43,479.19 336.6,479.21 337.97,479.27 338.14,478.43 338.31,478.39 338.49,478.64 338.66,478.82 338.83,478.48 339,478.25 339.17,478.54 339.34,478.74 339.52,478.13 339.69,478.45 339.86,477.39 340.03,477.92 340.2,478.3 340.38,478.57 340.55,478.77 340.72,478.91 340.89,479.01 341.06,479.02 341.23,478.8 341.41,478.93 341.58,479.03 341.75,479.1 341.92,479.14 342.09,479.18 342.26,479.21 342.78,479.25 342.95,478.21 343.12,478.51 343.29,478.72 343.47,478.88 343.64,478.76 343.81,478.9 343.98,479.01 344.15,479.08 344.32,479.14 344.5,479.17 344.67,479.2 344.84,479.03 345.01,479.01 345.18,479.07 345.35,479.13 345.53,478.37 345.7,478.62 345.87,478.38 346.04,478.63 346.21,478.81 346.38,478.94 346.56,479.03 346.73,479.1 346.9,479.15 347.07,479.19 347.24,479.21 347.41,478.35 347.59,478.61 347.76,478.8 347.93,478.93 348.1,479.03 348.27,479.1 348.44,479.15 348.62,479.16 348.79,479.19 349.65,479.26 349.82,479.21 350.33,479.25 350.51,478.58 350.68,478.78 350.85,478.92 351.02,478.31 351.19,478.58 351.36,478.72 351.54,478.88 351.71,478.99 351.88,478.78 352.05,478.92 352.22,479.02 352.39,479.09 352.57,478.69 352.74,478.85 352.91,478.97 353.08,479.05 353.25,479.12 353.42,479.16 353.6,479.19 353.77,479.22 353.94,478.95 354.11,479.04 354.28,479.11 354.45,478.8 354.63,478.93 354.8,479.03 354.97,479.1 355.14,479.15 355.31,479.18 355.48,479.21 356.17,479.25 356.34,477.29 356.51,477.85 356.69,478.25 356.86,476.85 357.03,476.92" fill="none" stroke="#D95319" stroke-width="1.0" stroke-opacity="1.0" stroke-linejoin="round"/>
<polyline points="30.8,452.4 35.95,479.15 357.03,479.15" fill="none" stroke="#333333" stroke-width="0.8" stroke-opacity="1.0" stroke-linejoin="round" stroke-dasharray="2.4 2.4"/>
<circle cx="30.8" cy="452.4" r="1.75" fill="#333333"/>
<circle cx="35.95" cy="479.15" r="1.75" fill="#333333"/>
<circle cx="41.1" cy="479.15" r="1.75" fill="#333333"/>
<circle cx="46.25" cy="479.15" r="1.75" fill="#333333"/>
<circle cx="51.4" cy="479.15" r="1.75" fill="#333333"/>
<circle cx="56.55" cy="479.15" r="1.75" fill="#333333"/>
<circle cx="61.71" cy="479.15" r="1.75" fill="#333333"/>
<circle cx="66.86" cy="479.15" r="1.75" fill="#333333"/>
<circle cx="72.01" cy="479.15" r="1.75" fill="#333333"/>
<circle cx="77.16" cy="479.15" r="1.75" fill="#333333"/>
<circle cx="82.31" cy="479.15" r="1.75" fill="#333333"/>
<circle cx="87.46" cy="479.15" r="1.75" fill="#333333"/>
<circle cx="92.61" cy="479.15" r="1.75" fill="#333333"/>
<circle cx="97.76" cy="479.15" r="1.75" fill="#333333"/>
<circle cx="102.91" cy="479.15" r="1.75" fill="#333333"/>
<circle cx="108.06" cy="479.15" r="1.75" fill="#333333"/>
<circle cx="113.22" cy="479.15" r="1.75" fill="#333333"/>
<circle cx="118.37" cy="479.15" r="1.75" fill="#333333"/>
<circle cx="123.52" cy="479.15" r="1.75" fill="#333333"/>
<circle cx="128.67" cy="479.15" r="1.75" fill="#333333"/>
<circle cx="133.82" cy="479.15" r="1.75" fill="#333333"/>
<circle cx="138.97" cy="479.15" r="1.75" fill="#333333"/>
<circle cx="144.12" cy="479.15" r="1.75" fill="#333333"/>
<circle cx="149.27" cy="479.15" r="1.75" fill="#333333"/>
<circle cx="154.42" cy="479.15" r="1.75" fill="#333333"/>
<circle cx="159.58" cy="479.15" r="1.75" fill="#333333"/>
<circle cx="164.73" cy="479.15" r="1.75" fill="#333333"/>
<circle cx="169.88" cy="479.15" r="1.75" fill="#333333"/>
<circle cx="175.03" cy="479.15" r="1.75" fill="#333333"/>
<circle cx="180.18" cy="479.15" r="1.75" fill="#333333"/>
<circle cx="185.33" cy="479.15" r="1.75" fill="#333333"/>
<circle cx="190.48" cy="479.15" r="1.75" fill="#333333"/>
<circle cx="195.63" cy="479.15" r="1.75" fill="#333333"/>
<circle cx="200.78" cy="479.15" r="1.75" fill="#333333"/>
<circle cx="205.93" cy="479.15" r="1.75" fill="#333333"/>
<circle cx="211.09" cy="479.15" r="1.75" fill="#333333"/>
<circle cx="216.24" cy="479.15" r="1.75" fill="#333333"/>
<circle cx="221.39" cy="479.15" r="1.75" fill="#333333"/>
<circle cx="226.54" cy="479.15" r="1.75" fill="#333333"/>
<circle cx="231.69" cy="479.15" r="1.75" fill="#333333"/>
<circle cx="236.84" cy="479.15" r="1.75" fill="#333333"/>
<circle cx="241.99" cy="479.15" r="1.75" fill="#333333"/>
<circle cx="247.14" cy="479.15" r="1.75" fill="#333333"/>
<circle cx="252.29" cy="479.15" r="1.75" fill="#333333"/>
<circle cx="257.44" cy="479.15" r="1.75" fill="#333333"/>
<circle cx="262.59" cy="479.15" r="1.75" fill="#333333"/>
<circle cx="267.75" cy="479.15" r="1.75" fill="#333333"/>
<circle cx="272.9" cy="479.15" r="1.75" fill="#333333"/>
<circle cx="278.05" cy="479.15" r="1.75" fill="#333333"/>
<circle cx="283.2" cy="479.15" r="1.75" fill="#333333"/>
<circle cx="288.35" cy="479.15" r="1.75" fill="#333333"/>
<circle cx="293.5" cy="479.15" r="1.75" fill="#333333"/>
<circle cx="298.65" cy="479.15" r="1.75" fill="#333333"/>
<circle cx="303.8" cy="479.15" r="1.75" fill="#333333"/>
<circle cx="308.95" cy="479.15" r="1.75" fill="#333333"/>
<circle cx="314.11" cy="479.15" r="1.75" fill="#333333"/>
<circle cx="319.26" cy="479.15" r="1.75" fill="#333333"/>
<circle cx="324.41" cy="479.15" r="1.75" fill="#333333"/>
<circle cx="329.56" cy="479.15" r="1.75" fill="#333333"/>
<circle cx="334.71" cy="479.15" r="1.75" fill="#333333"/>
<circle cx="339.86" cy="479.15" r="1.75" fill="#333333"/>
<circle cx="345.01" cy="479.15" r="1.75" fill="#333333"/>
<circle cx="350.16" cy="479.15" r="1.75" fill="#333333"/>
<circle cx="355.31" cy="479.15" r="1.75" fill="#333333"/>
<circle cx="357.03" cy="479.15" r="2.3" fill="#8a8a8a" fill-opacity="0.55" stroke="#555" stroke-width="0.5"/>
<circle cx="355.31" cy="479.15" r="1.6" fill="#333333"/>
<text x="362.33" y="481.47" font-size="5.6" fill="#444" textLength="10.4" lengthAdjust="spacingAndGlyphs" stroke="#444" stroke-width="0.15">Final</text>
<rect x="229.8" y="412.6" width="126.3" height="54" fill="#fff"/>
<text x="232.4" y="422.1" font-size="6.95" fill="#111" font-weight="bold">Loss</text>
<line x1="245.9" x2="277.8" y1="432.4" y2="432.4" stroke="#D95319" stroke-width="1.5"/>
<text x="280.5" y="434.9" font-size="6.95" fill="#222" stroke="#222" stroke-width="0.15">Training (smoothed)</text>
<line x1="245.9" x2="277.8" y1="444.6" y2="444.6" stroke="#F2BBA3" stroke-width="0.9"/>
<circle cx="261.85" cy="444.6" r="2.6" fill="#F2BBA3"/>
<text x="280.5" y="447.1" font-size="6.95" fill="#222" stroke="#222" stroke-width="0.15">Training</text>
<line x1="245.9" x2="277.8" y1="458" y2="458" stroke="#333333" stroke-width="0.9" stroke-dasharray="3.6 3.5"/>
<circle cx="261.85" cy="458" r="2.7" fill="#333333"/>
<text x="280.5" y="460.5" font-size="6.95" fill="#222" stroke="#222" stroke-width="0.15">Validation</text>
<text transform="translate(16.12,439.1) rotate(-90)" font-size="7.0" font-weight="bold" text-anchor="middle" fill="#111" stroke="#111" stroke-width="0.25" textLength="14" lengthAdjust="spacingAndGlyphs">Loss</text>
<text x="205.9" y="493.16" font-size="7.4" fill="#111" text-anchor="middle" font-weight="bold" textLength="26.2" lengthAdjust="spacingAndGlyphs" stroke="#111" stroke-width="0.25">Iteration</text>
<text x="388.6" y="274.45" font-size="6.8" fill="#111" font-weight="bold">Results</text>
<text x="388.6" y="285.85" font-size="6.8" fill="#222" stroke="#222" stroke-width="0.15">Validation accuracy:</text>
<text x="476.5" y="285.85" font-size="6.8" fill="#222" stroke="#222" stroke-width="0.15">100.00%</text>
<text x="388.6" y="297.55" font-size="6.8" fill="#222" stroke="#222" stroke-width="0.15">Training finished:</text>
<text x="476.5" y="297.55" font-size="6.8" fill="#222" stroke="#222" stroke-width="0.15">Reached final iteration</text>
<text x="388.6" y="314.95" font-size="6.8" fill="#111" font-weight="bold">Training Time</text>
<text x="388.6" y="326.35" font-size="6.8" fill="#222" stroke="#222" stroke-width="0.15">Start time:</text>
<text x="476.5" y="326.35" font-size="6.8" fill="#222" stroke="#222" stroke-width="0.15">2022-10-23 02:35:11</text>
<text x="388.6" y="338.05" font-size="6.8" fill="#222" stroke="#222" stroke-width="0.15">Elapsed time:</text>
<text x="476.5" y="338.05" font-size="6.8" fill="#222" stroke="#222" stroke-width="0.15">10 min 55 sec</text>
<text x="388.6" y="355.45" font-size="6.8" fill="#111" font-weight="bold">Training Cycle</text>
<text x="388.6" y="367.45" font-size="6.8" fill="#222" stroke="#222" stroke-width="0.15">Epoch:</text>
<text x="476.5" y="367.45" font-size="6.8" fill="#222" stroke="#222" stroke-width="0.15">50 of 50</text>
<text x="388.6" y="378.75" font-size="6.8" fill="#222" stroke="#222" stroke-width="0.15">Iteration:</text>
<text x="476.5" y="378.75" font-size="6.8" fill="#222" stroke="#222" stroke-width="0.15">1900 of 1900</text>
<text x="388.6" y="390.45" font-size="6.8" fill="#222" stroke="#222" stroke-width="0.15">Iterations per epoch:</text>
<text x="476.5" y="390.45" font-size="6.8" fill="#222" stroke="#222" stroke-width="0.15">38</text>
<text x="388.6" y="402.55" font-size="6.8" fill="#222" stroke="#222" stroke-width="0.15">Maximum iterations:</text>
<text x="476.5" y="402.55" font-size="6.8" fill="#222" stroke="#222" stroke-width="0.15">1900</text>
<text x="388.6" y="419.65" font-size="6.8" fill="#111" font-weight="bold">Validation</text>
<text x="388.6" y="431.05" font-size="6.8" fill="#222" stroke="#222" stroke-width="0.15">Frequency:</text>
<text x="476.5" y="431.05" font-size="6.8" fill="#222" stroke="#222" stroke-width="0.15">30 iterations</text>
<text x="388.6" y="448.15" font-size="6.8" fill="#111" font-weight="bold">Other Information</text>
<text x="388.6" y="460.15" font-size="6.8" fill="#222" stroke="#222" stroke-width="0.15">Hardware resource:</text>
<text x="476.5" y="460.15" font-size="6.8" fill="#222" stroke="#222" stroke-width="0.15">Single GPU</text>
<text x="388.6" y="471.85" font-size="6.8" fill="#222" stroke="#222" stroke-width="0.15">Learning rate schedule:</text>
<text x="476.5" y="471.85" font-size="6.8" fill="#222" stroke="#222" stroke-width="0.15">Constant</text>
<text x="388.6" y="483.55" font-size="6.8" fill="#222" stroke="#222" stroke-width="0.15">Learning rate:</text>
<text x="476.5" y="483.55" font-size="6.8" fill="#222" stroke="#222" stroke-width="0.15">0.0003</text>
<text x="276" y="505.9" font-size="10.6" fill="#111" text-anchor="middle" stroke="#111" stroke-width="0.15" font-family='"Liberation Serif", "Times New Roman", serif'>(<tspan font-weight="bold">b</tspan>)</text>
</svg>
</body></html>
